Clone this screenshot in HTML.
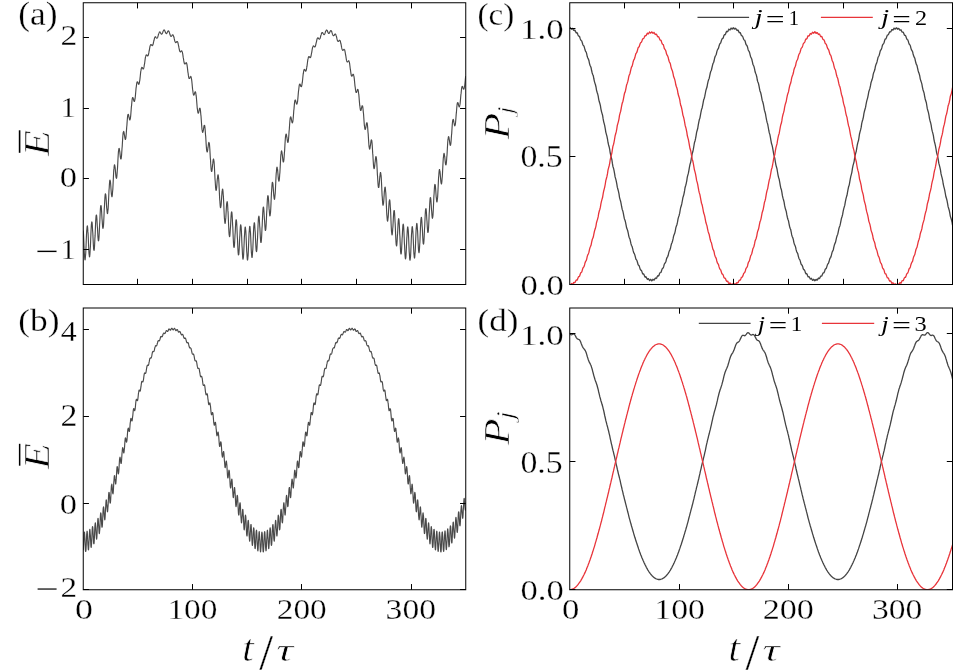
<!DOCTYPE html><html><head><meta charset="utf-8"><style>html,body{margin:0;padding:0;background:#fff;overflow:hidden;}svg{display:block;}text{font-family:"Liberation Serif",serif;fill:#000;font-size:100px;stroke:#fff;stroke-width:0.3px;vector-effect:non-scaling-stroke;}.i{font-style:italic;}.ns{stroke:none;}.th{stroke-width:0.7px;}</style></head><body>
<svg width="953" height="672" viewBox="0 0 953 672">
<rect width="953" height="672" fill="#fff"/>
<clipPath id="ca"><rect x="83.25" y="2.75" width="382.50" height="281.75"/></clipPath>
<clipPath id="cb"><rect x="83.25" y="308.00" width="382.50" height="281.75"/></clipPath>
<clipPath id="cc"><rect x="569.75" y="2.75" width="382.75" height="281.75"/></clipPath>
<clipPath id="cd"><rect x="569.75" y="308.00" width="382.75" height="281.75"/></clipPath>
<g clip-path="url(#ca)" fill="none" stroke-width="1.15" stroke-linejoin="round"><path d="M83.2 230.5L83.4 232.2L83.5 234.1L83.6 236.3L83.7 238.6L83.8 241.1L83.9 243.5L84.0 246.0L84.1 248.5L84.2 250.8L84.3 253.0L84.5 254.9L84.6 256.6L84.7 257.9L84.8 259.0L84.9 259.6L85.0 259.9L85.1 259.8L85.2 259.4L85.3 258.5L85.4 257.3L85.5 255.8L85.7 254.0L85.8 251.9L85.9 249.6L86.0 247.2L86.1 244.7L86.2 242.1L86.3 239.6L86.4 237.1L86.5 234.8L86.6 232.7L86.7 230.8L86.9 229.1L87.0 227.8L87.1 226.8L87.2 226.2L87.3 225.9L87.4 226.0L87.5 226.5L87.6 227.4L87.7 228.6L87.8 230.1L87.9 231.9L88.1 233.9L88.2 236.1L88.3 238.4L88.4 240.8L88.5 243.2L88.6 245.5L88.7 247.8L88.8 249.9L88.9 251.8L89.0 253.4L89.2 254.8L89.3 255.8L89.4 256.5L89.5 256.8L89.6 256.8L89.7 256.3L89.8 255.5L89.9 254.4L90.0 252.9L90.1 251.1L90.2 249.1L90.4 246.8L90.5 244.4L90.6 241.9L90.7 239.3L90.8 236.7L90.9 234.2L91.0 231.8L91.1 229.5L91.2 227.5L91.3 225.7L91.4 224.3L91.6 223.1L91.7 222.4L91.8 221.9L91.9 221.9L92.0 222.2L92.1 222.8L92.2 223.8L92.3 225.1L92.4 226.7L92.5 228.6L92.6 230.6L92.8 232.7L92.9 234.9L93.0 237.2L93.1 239.4L93.2 241.6L93.3 243.6L93.4 245.4L93.5 247.0L93.6 248.4L93.7 249.4L93.9 250.1L94.0 250.4L94.1 250.4L94.2 250.0L94.3 249.2L94.4 248.1L94.5 246.7L94.6 245.0L94.7 243.0L94.8 240.8L94.9 238.4L95.1 235.9L95.2 233.3L95.3 230.8L95.4 228.2L95.5 225.8L95.6 223.5L95.7 221.4L95.8 219.6L95.9 218.0L96.0 216.7L96.1 215.8L96.3 215.2L96.4 215.0L96.5 215.1L96.6 215.6L96.7 216.4L96.8 217.5L96.9 218.9L97.0 220.5L97.1 222.3L97.2 224.2L97.3 226.3L97.5 228.3L97.6 230.4L97.7 232.4L97.8 234.3L97.9 236.1L98.0 237.6L98.1 238.8L98.2 239.8L98.3 240.5L98.4 240.8L98.5 240.8L98.7 240.5L98.8 239.8L98.9 238.7L99.0 237.4L99.1 235.7L99.2 233.8L99.3 231.7L99.4 229.4L99.5 227.0L99.6 224.5L99.8 222.0L99.9 219.5L100.0 217.1L100.1 214.8L100.2 212.7L100.3 210.8L100.4 209.1L100.5 207.8L100.6 206.7L100.7 206.0L100.8 205.6L101.0 205.6L101.1 205.8L101.2 206.4L101.3 207.3L101.4 208.5L101.5 209.8L101.6 211.4L101.7 213.2L101.8 215.0L101.9 216.9L102.0 218.8L102.2 220.6L102.3 222.3L102.4 223.9L102.5 225.3L102.6 226.5L102.7 227.5L102.8 228.1L102.9 228.4L103.0 228.4L103.1 228.1L103.2 227.5L103.4 226.5L103.5 225.3L103.6 223.7L103.7 221.9L103.8 219.9L103.9 217.7L104.0 215.4L104.1 213.0L104.2 210.6L104.3 208.2L104.5 205.9L104.6 203.6L104.7 201.5L104.8 199.6L104.9 197.9L105.0 196.5L105.1 195.4L105.2 194.5L105.3 194.0L105.4 193.8L105.5 193.9L105.7 194.3L105.8 195.0L105.9 195.9L106.0 197.0L106.1 198.4L106.2 199.9L106.3 201.5L106.4 203.1L106.5 204.8L106.6 206.4L106.7 208.0L106.9 209.4L107.0 210.7L107.1 211.8L107.2 212.7L107.3 213.2L107.4 213.6L107.5 213.6L107.6 213.3L107.7 212.7L107.8 211.8L107.9 210.7L108.1 209.2L108.2 207.6L108.3 205.7L108.4 203.7L108.5 201.5L108.6 199.3L108.7 197.0L108.8 194.7L108.9 192.4L109.0 190.3L109.2 188.2L109.3 186.4L109.4 184.7L109.5 183.2L109.6 182.1L109.7 181.1L109.8 180.5L109.9 180.2L110.0 180.1L110.1 180.3L110.2 180.8L110.4 181.5L110.5 182.4L110.6 183.5L110.7 184.7L110.8 186.1L110.9 187.5L111.0 189.0L111.1 190.4L111.2 191.8L111.3 193.0L111.4 194.2L111.6 195.1L111.7 195.9L111.8 196.4L111.9 196.7L112.0 196.7L112.1 196.4L112.2 195.9L112.3 195.1L112.4 194.1L112.5 192.8L112.6 191.3L112.8 189.6L112.9 187.7L113.0 185.7L113.1 183.6L113.2 181.5L113.3 179.3L113.4 177.2L113.5 175.2L113.6 173.2L113.7 171.4L113.8 169.8L114.0 168.4L114.1 167.2L114.2 166.2L114.3 165.5L114.4 165.0L114.5 164.8L114.6 164.9L114.7 165.1L114.8 165.6L114.9 166.3L115.1 167.2L115.2 168.2L115.3 169.3L115.4 170.5L115.5 171.7L115.6 172.9L115.7 174.1L115.8 175.2L115.9 176.1L116.0 177.0L116.1 177.6L116.3 178.1L116.4 178.3L116.5 178.3L116.6 178.1L116.7 177.6L116.8 176.9L116.9 176.0L117.0 174.8L117.1 173.4L117.2 171.9L117.3 170.2L117.5 168.4L117.6 166.5L117.7 164.6L117.8 162.6L117.9 160.6L118.0 158.7L118.1 156.9L118.2 155.2L118.3 153.7L118.4 152.3L118.5 151.1L118.7 150.1L118.8 149.4L118.9 148.8L119.0 148.5L119.1 148.4L119.2 148.5L119.3 148.8L119.4 149.3L119.5 150.0L119.6 150.8L119.8 151.6L119.9 152.6L120.0 153.6L120.1 154.6L120.2 155.5L120.3 156.4L120.4 157.2L120.5 157.9L120.6 158.5L120.7 158.8L120.8 159.0L121.0 159.0L121.1 158.8L121.2 158.4L121.3 157.7L121.4 156.9L121.5 155.9L121.6 154.7L121.7 153.3L121.8 151.8L121.9 150.2L122.0 148.5L122.2 146.8L122.3 145.0L122.4 143.2L122.5 141.5L122.6 139.8L122.7 138.3L122.8 136.8L122.9 135.5L123.0 134.4L123.1 133.4L123.2 132.6L123.4 132.0L123.5 131.6L123.6 131.4L123.7 131.4L123.8 131.6L123.9 131.9L124.0 132.3L124.1 132.9L124.2 133.6L124.3 134.3L124.5 135.1L124.6 135.9L124.7 136.6L124.8 137.3L124.9 138.0L125.0 138.5L125.1 139.0L125.2 139.3L125.3 139.4L125.4 139.4L125.5 139.2L125.7 138.8L125.8 138.2L125.9 137.5L126.0 136.6L126.1 135.5L126.2 134.4L126.3 133.0L126.4 131.6L126.5 130.1L126.6 128.6L126.7 127.0L126.9 125.5L127.0 123.9L127.1 122.4L127.2 121.0L127.3 119.7L127.4 118.5L127.5 117.4L127.6 116.5L127.7 115.7L127.8 115.1L127.9 114.7L128.1 114.4L128.2 114.3L128.3 114.3L128.4 114.5L128.5 114.8L128.6 115.2L128.7 115.6L128.8 116.2L128.9 116.7L129.0 117.3L129.2 117.9L129.3 118.5L129.4 119.0L129.5 119.4L129.6 119.7L129.7 119.9L129.8 120.0L129.9 120.0L130.0 119.8L130.1 119.4L130.2 118.9L130.4 118.3L130.5 117.5L130.6 116.6L130.7 115.6L130.8 114.5L130.9 113.3L131.0 112.0L131.1 110.7L131.2 109.3L131.3 107.9L131.4 106.6L131.6 105.3L131.7 104.0L131.8 102.9L131.9 101.8L132.0 100.8L132.1 99.9L132.2 99.2L132.3 98.6L132.4 98.2L132.5 97.8L132.6 97.6L132.8 97.6L132.9 97.6L133.0 97.8L133.1 98.0L133.2 98.3L133.3 98.7L133.4 99.1L133.5 99.5L133.6 99.9L133.7 100.3L133.8 100.7L134.0 101.0L134.1 101.2L134.2 101.4L134.3 101.4L134.4 101.4L134.5 101.2L134.6 100.9L134.7 100.5L134.8 100.0L134.9 99.3L135.1 98.5L135.2 97.7L135.3 96.7L135.4 95.7L135.5 94.6L135.6 93.5L135.7 92.3L135.8 91.2L135.9 90.0L136.0 88.9L136.1 87.8L136.3 86.8L136.4 85.8L136.5 85.0L136.6 84.2L136.7 83.5L136.8 83.0L136.9 82.5L137.0 82.2L137.1 81.9L137.2 81.8L137.3 81.8L137.5 81.8L137.6 81.9L137.7 82.1L137.8 82.4L137.9 82.6L138.0 82.9L138.1 83.2L138.2 83.5L138.3 83.8L138.4 84.0L138.5 84.1L138.7 84.2L138.8 84.3L138.9 84.2L139.0 84.0L139.1 83.8L139.2 83.4L139.3 83.0L139.4 82.4L139.5 81.8L139.6 81.1L139.8 80.3L139.9 79.5L140.0 78.6L140.1 77.6L140.2 76.7L140.3 75.7L140.4 74.7L140.5 73.8L140.6 72.9L140.7 72.0L140.8 71.2L141.0 70.4L141.1 69.7L141.2 69.1L141.3 68.6L141.4 68.2L141.5 67.9L141.6 67.6L141.7 67.4L141.8 67.4L141.9 67.3L142.0 67.4L142.2 67.5L142.3 67.6L142.4 67.8L142.5 68.0L142.6 68.2L142.7 68.4L142.8 68.6L142.9 68.8L143.0 68.9L143.1 68.9L143.2 68.9L143.4 68.9L143.5 68.7L143.6 68.5L143.7 68.2L143.8 67.9L143.9 67.4L144.0 66.9L144.1 66.4L144.2 65.7L144.3 65.0L144.4 64.3L144.6 63.6L144.7 62.8L144.8 62.0L144.9 61.2L145.0 60.4L145.1 59.6L145.2 58.9L145.3 58.2L145.4 57.6L145.5 57.0L145.7 56.5L145.8 56.1L145.9 55.7L146.0 55.4L146.1 55.1L146.2 55.0L146.3 54.9L146.4 54.8L146.5 54.8L146.6 54.9L146.7 55.0L146.9 55.1L147.0 55.2L147.1 55.4L147.2 55.5L147.3 55.7L147.4 55.8L147.5 55.9L147.6 55.9L147.7 55.9L147.8 55.9L147.9 55.8L148.1 55.6L148.2 55.4L148.3 55.1L148.4 54.8L148.5 54.4L148.6 53.9L148.7 53.4L148.8 52.9L148.9 52.3L149.0 51.7L149.1 51.1L149.3 50.5L149.4 49.8L149.5 49.2L149.6 48.6L149.7 48.0L149.8 47.4L149.9 46.9L150.0 46.4L150.1 46.0L150.2 45.6L150.4 45.3L150.5 45.0L150.6 44.8L150.7 44.7L150.8 44.6L150.9 44.5L151.0 44.5L151.1 44.6L151.2 44.7L151.3 44.8L151.4 44.9L151.6 45.0L151.7 45.1L151.8 45.3L151.9 45.4L152.0 45.5L152.1 45.5L152.2 45.6L152.3 45.6L152.4 45.5L152.5 45.4L152.6 45.3L152.8 45.1L152.9 44.8L153.0 44.6L153.1 44.2L153.2 43.8L153.3 43.4L153.4 43.0L153.5 42.5L153.6 42.0L153.7 41.5L153.8 41.0L154.0 40.5L154.1 40.0L154.2 39.6L154.3 39.1L154.4 38.7L154.5 38.3L154.6 38.0L154.7 37.7L154.8 37.4L154.9 37.2L155.1 37.0L155.2 36.9L155.3 36.9L155.4 36.8L155.5 36.9L155.6 36.9L155.7 37.0L155.8 37.1L155.9 37.3L156.0 37.4L156.1 37.6L156.3 37.7L156.4 37.9L156.5 38.0L156.6 38.1L156.7 38.2L156.8 38.2L156.9 38.2L157.0 38.2L157.1 38.1L157.2 38.0L157.3 37.9L157.5 37.7L157.6 37.5L157.7 37.2L157.8 36.9L157.9 36.6L158.0 36.2L158.1 35.8L158.2 35.5L158.3 35.1L158.4 34.7L158.5 34.3L158.7 33.9L158.8 33.6L158.9 33.2L159.0 32.9L159.1 32.7L159.2 32.4L159.3 32.3L159.4 32.1L159.5 32.0L159.6 32.0L159.8 31.9L159.9 32.0L160.0 32.0L160.1 32.1L160.2 32.3L160.3 32.4L160.4 32.6L160.5 32.8L160.6 33.0L160.7 33.2L160.8 33.4L161.0 33.6L161.1 33.7L161.2 33.9L161.3 34.0L161.4 34.1L161.5 34.2L161.6 34.2L161.7 34.2L161.8 34.1L161.9 34.0L162.0 33.9L162.2 33.7L162.3 33.5L162.4 33.3L162.5 33.0L162.6 32.7L162.7 32.5L162.8 32.2L162.9 31.9L163.0 31.6L163.1 31.3L163.2 31.0L163.4 30.7L163.5 30.5L163.6 30.3L163.7 30.2L163.8 30.0L163.9 30.0L164.0 29.9L164.1 29.9L164.2 30.0L164.3 30.1L164.4 30.2L164.6 30.3L164.7 30.5L164.8 30.8L164.9 31.0L165.0 31.3L165.1 31.5L165.2 31.8L165.3 32.1L165.4 32.3L165.5 32.6L165.7 32.8L165.8 33.0L165.9 33.2L166.0 33.3L166.1 33.5L166.2 33.5L166.3 33.6L166.4 33.6L166.5 33.5L166.6 33.4L166.7 33.3L166.9 33.2L167.0 33.0L167.1 32.8L167.2 32.6L167.3 32.4L167.4 32.2L167.5 31.9L167.6 31.7L167.7 31.5L167.8 31.3L167.9 31.2L168.1 31.0L168.2 31.0L168.3 30.9L168.4 30.9L168.5 30.9L168.6 31.0L168.7 31.1L168.8 31.2L168.9 31.4L169.0 31.6L169.1 31.9L169.3 32.2L169.4 32.5L169.5 32.9L169.6 33.2L169.7 33.6L169.8 33.9L169.9 34.3L170.0 34.6L170.1 34.9L170.2 35.2L170.4 35.5L170.5 35.7L170.6 36.0L170.7 36.1L170.8 36.2L170.9 36.3L171.0 36.4L171.1 36.4L171.2 36.4L171.3 36.3L171.4 36.2L171.6 36.1L171.7 35.9L171.8 35.8L171.9 35.6L172.0 35.5L172.1 35.3L172.2 35.1L172.3 35.0L172.4 34.9L172.5 34.8L172.6 34.8L172.8 34.8L172.9 34.8L173.0 34.9L173.1 35.0L173.2 35.2L173.3 35.4L173.4 35.6L173.5 36.0L173.6 36.3L173.7 36.7L173.8 37.1L174.0 37.5L174.1 38.0L174.2 38.4L174.3 38.9L174.4 39.3L174.5 39.8L174.6 40.2L174.7 40.6L174.8 41.0L174.9 41.3L175.1 41.7L175.2 41.9L175.3 42.1L175.4 42.3L175.5 42.4L175.6 42.5L175.7 42.6L175.8 42.6L175.9 42.5L176.0 42.5L176.1 42.4L176.3 42.3L176.4 42.1L176.5 42.0L176.6 41.9L176.7 41.7L176.8 41.6L176.9 41.5L177.0 41.5L177.1 41.5L177.2 41.5L177.3 41.6L177.5 41.7L177.6 41.9L177.7 42.1L177.8 42.4L177.9 42.7L178.0 43.1L178.1 43.5L178.2 44.0L178.3 44.5L178.4 45.0L178.5 45.6L178.7 46.2L178.8 46.8L178.9 47.4L179.0 47.9L179.1 48.5L179.2 49.0L179.3 49.5L179.4 50.0L179.5 50.4L179.6 50.8L179.7 51.1L179.9 51.4L180.0 51.6L180.1 51.7L180.2 51.8L180.3 51.9L180.4 51.9L180.5 51.8L180.6 51.8L180.7 51.7L180.8 51.5L181.0 51.4L181.1 51.3L181.2 51.1L181.3 51.0L181.4 50.9L181.5 50.9L181.6 50.8L181.7 50.9L181.8 51.0L181.9 51.1L182.0 51.3L182.2 51.6L182.3 51.9L182.4 52.3L182.5 52.8L182.6 53.3L182.7 53.9L182.8 54.5L182.9 55.2L183.0 55.9L183.1 56.6L183.2 57.4L183.4 58.1L183.5 58.8L183.6 59.5L183.7 60.2L183.8 60.9L183.9 61.4L184.0 62.0L184.1 62.5L184.2 62.9L184.3 63.3L184.4 63.5L184.6 63.7L184.7 63.9L184.8 64.0L184.9 64.0L185.0 63.9L185.1 63.9L185.2 63.7L185.3 63.6L185.4 63.4L185.5 63.2L185.7 63.1L185.8 62.9L185.9 62.8L186.0 62.7L186.1 62.6L186.2 62.6L186.3 62.7L186.4 62.8L186.5 63.1L186.6 63.4L186.7 63.8L186.9 64.2L187.0 64.8L187.1 65.4L187.2 66.1L187.3 66.8L187.4 67.6L187.5 68.5L187.6 69.4L187.7 70.3L187.8 71.2L187.9 72.1L188.1 73.0L188.2 73.8L188.3 74.6L188.4 75.4L188.5 76.0L188.6 76.6L188.7 77.2L188.8 77.6L188.9 78.0L189.0 78.2L189.1 78.4L189.3 78.5L189.4 78.5L189.5 78.5L189.6 78.3L189.7 78.2L189.8 78.0L189.9 77.7L190.0 77.4L190.1 77.2L190.2 76.9L190.4 76.7L190.5 76.6L190.6 76.4L190.7 76.4L190.8 76.4L190.9 76.6L191.0 76.8L191.1 77.1L191.2 77.5L191.3 78.0L191.4 78.6L191.6 79.3L191.7 80.2L191.8 81.0L191.9 82.0L192.0 83.0L192.1 84.0L192.2 85.1L192.3 86.2L192.4 87.3L192.5 88.4L192.6 89.4L192.8 90.4L192.9 91.3L193.0 92.1L193.1 92.9L193.2 93.5L193.3 94.0L193.4 94.5L193.5 94.8L193.6 95.0L193.7 95.1L193.8 95.1L194.0 95.0L194.1 94.8L194.2 94.5L194.3 94.2L194.4 93.9L194.5 93.5L194.6 93.1L194.7 92.8L194.8 92.4L194.9 92.2L195.0 91.9L195.2 91.8L195.3 91.8L195.4 91.8L195.5 92.0L195.6 92.3L195.7 92.7L195.8 93.3L195.9 94.0L196.0 94.7L196.1 95.7L196.3 96.7L196.4 97.8L196.5 98.9L196.6 100.2L196.7 101.4L196.8 102.7L196.9 104.0L197.0 105.3L197.1 106.5L197.2 107.7L197.3 108.7L197.5 109.7L197.6 110.6L197.7 111.4L197.8 112.0L197.9 112.5L198.0 112.9L198.1 113.1L198.2 113.2L198.3 113.2L198.4 113.0L198.5 112.8L198.7 112.4L198.8 112.0L198.9 111.5L199.0 111.0L199.1 110.5L199.2 110.0L199.3 109.5L199.4 109.0L199.5 108.7L199.6 108.4L199.7 108.3L199.9 108.2L200.0 108.3L200.1 108.6L200.2 109.0L200.3 109.6L200.4 110.3L200.5 111.1L200.6 112.1L200.7 113.2L200.8 114.5L201.0 115.8L201.1 117.2L201.2 118.7L201.3 120.2L201.4 121.7L201.5 123.1L201.6 124.6L201.7 125.9L201.8 127.2L201.9 128.4L202.0 129.4L202.2 130.3L202.3 131.1L202.4 131.6L202.5 132.1L202.6 132.3L202.7 132.4L202.8 132.3L202.9 132.1L203.0 131.7L203.1 131.3L203.2 130.7L203.4 130.1L203.5 129.4L203.6 128.7L203.7 128.0L203.8 127.3L203.9 126.7L204.0 126.2L204.1 125.7L204.2 125.4L204.3 125.3L204.4 125.3L204.6 125.5L204.7 125.8L204.8 126.4L204.9 127.1L205.0 128.0L205.1 129.1L205.2 130.3L205.3 131.6L205.4 133.1L205.5 134.7L205.7 136.4L205.8 138.0L205.9 139.7L206.0 141.4L206.1 143.1L206.2 144.6L206.3 146.1L206.4 147.4L206.5 148.6L206.6 149.7L206.7 150.5L206.9 151.2L207.0 151.7L207.1 151.9L207.2 152.0L207.3 151.9L207.4 151.6L207.5 151.1L207.6 150.6L207.7 149.8L207.8 149.0L207.9 148.2L208.1 147.2L208.2 146.3L208.3 145.5L208.4 144.6L208.5 143.9L208.6 143.3L208.7 142.8L208.8 142.5L208.9 142.4L209.0 142.4L209.1 142.7L209.3 143.2L209.4 143.9L209.5 144.8L209.6 146.0L209.7 147.3L209.8 148.7L209.9 150.3L210.0 152.1L210.1 153.9L210.2 155.8L210.3 157.7L210.5 159.6L210.6 161.4L210.7 163.2L210.8 164.8L210.9 166.4L211.0 167.7L211.1 168.9L211.2 169.9L211.3 170.6L211.4 171.1L211.6 171.4L211.7 171.5L211.8 171.3L211.9 171.0L212.0 170.4L212.1 169.7L212.2 168.8L212.3 167.8L212.4 166.8L212.5 165.6L212.6 164.5L212.8 163.4L212.9 162.3L213.0 161.4L213.1 160.6L213.2 159.9L213.3 159.4L213.4 159.1L213.5 159.0L213.6 159.2L213.7 159.6L213.8 160.3L214.0 161.2L214.1 162.3L214.2 163.7L214.3 165.2L214.4 166.9L214.5 168.8L214.6 170.8L214.7 172.8L214.8 174.9L214.9 177.0L215.0 179.0L215.2 181.0L215.3 182.8L215.4 184.5L215.5 186.0L215.6 187.4L215.7 188.5L215.8 189.3L215.9 189.9L216.0 190.2L216.1 190.3L216.3 190.1L216.4 189.6L216.5 189.0L216.6 188.1L216.7 187.1L216.8 185.9L216.9 184.7L217.0 183.3L217.1 182.0L217.2 180.6L217.3 179.3L217.5 178.1L217.6 177.1L217.7 176.2L217.8 175.5L217.9 175.0L218.0 174.8L218.1 174.8L218.2 175.1L218.3 175.7L218.4 176.6L218.5 177.7L218.7 179.1L218.8 180.6L218.9 182.4L219.0 184.4L219.1 186.5L219.2 188.7L219.3 190.9L219.4 193.2L219.5 195.4L219.6 197.5L219.7 199.5L219.9 201.4L220.0 203.1L220.1 204.5L220.2 205.7L220.3 206.7L220.4 207.3L220.5 207.7L220.6 207.7L220.7 207.5L220.8 207.0L220.9 206.3L221.1 205.3L221.2 204.1L221.3 202.8L221.4 201.3L221.5 199.8L221.6 198.2L221.7 196.6L221.8 195.1L221.9 193.6L222.0 192.3L222.2 191.2L222.3 190.3L222.4 189.6L222.5 189.2L222.6 189.1L222.7 189.3L222.8 189.7L222.9 190.5L223.0 191.6L223.1 192.9L223.2 194.5L223.4 196.4L223.5 198.4L223.6 200.6L223.7 202.9L223.8 205.2L223.9 207.6L224.0 210.0L224.1 212.3L224.2 214.5L224.3 216.5L224.4 218.3L224.6 219.9L224.7 221.2L224.8 222.2L224.9 222.9L225.0 223.3L225.1 223.4L225.2 223.2L225.3 222.6L225.4 221.8L225.5 220.7L225.6 219.4L225.8 217.9L225.9 216.3L226.0 214.5L226.1 212.7L226.2 210.9L226.3 209.2L226.4 207.5L226.5 205.9L226.6 204.6L226.7 203.4L226.9 202.5L227.0 201.9L227.1 201.6L227.2 201.6L227.3 202.0L227.4 202.6L227.5 203.6L227.6 204.9L227.7 206.5L227.8 208.3L227.9 210.4L228.1 212.6L228.2 215.0L228.3 217.4L228.4 219.9L228.5 222.4L228.6 224.8L228.7 227.1L228.8 229.3L228.9 231.2L229.0 232.9L229.1 234.3L229.3 235.4L229.4 236.2L229.5 236.6L229.6 236.7L229.7 236.5L229.8 235.9L229.9 235.1L230.0 233.9L230.1 232.5L230.2 230.9L230.3 229.1L230.5 227.1L230.6 225.1L230.7 223.1L230.8 221.1L230.9 219.2L231.0 217.4L231.1 215.8L231.2 214.5L231.3 213.4L231.4 212.5L231.6 212.0L231.7 211.9L231.8 212.1L231.9 212.6L232.0 213.5L232.1 214.7L232.2 216.2L232.3 218.0L232.4 220.0L232.5 222.3L232.6 224.7L232.8 227.2L232.9 229.7L233.0 232.3L233.1 234.8L233.2 237.2L233.3 239.4L233.4 241.4L233.5 243.2L233.6 244.7L233.7 245.9L233.8 246.7L234.0 247.2L234.1 247.4L234.2 247.1L234.3 246.5L234.4 245.6L234.5 244.4L234.6 242.9L234.7 241.2L234.8 239.3L234.9 237.2L235.0 235.0L235.2 232.8L235.3 230.6L235.4 228.5L235.5 226.5L235.6 224.7L235.7 223.1L235.8 221.8L235.9 220.8L236.0 220.1L236.1 219.7L236.2 219.7L236.4 220.1L236.5 220.9L236.6 221.9L236.7 223.4L236.8 225.1L236.9 227.0L237.0 229.2L237.1 231.6L237.2 234.1L237.3 236.7L237.5 239.3L237.6 241.8L237.7 244.3L237.8 246.6L237.9 248.7L238.0 250.5L238.1 252.1L238.2 253.3L238.3 254.2L238.4 254.8L238.5 254.9L238.7 254.7L238.8 254.1L238.9 253.2L239.0 252.0L239.1 250.4L239.2 248.6L239.3 246.6L239.4 244.4L239.5 242.1L239.6 239.7L239.7 237.4L239.9 235.1L240.0 232.9L240.1 230.9L240.2 229.2L240.3 227.6L240.4 226.4L240.5 225.5L240.6 225.0L240.7 224.8L240.8 225.0L240.9 225.6L241.1 226.5L241.2 227.8L241.3 229.4L241.4 231.3L241.5 233.4L241.6 235.7L241.7 238.1L241.8 240.7L241.9 243.3L242.0 245.8L242.2 248.3L242.3 250.6L242.4 252.7L242.5 254.6L242.6 256.2L242.7 257.5L242.8 258.4L242.9 259.0L243.0 259.2L243.1 259.0L243.2 258.5L243.4 257.5L243.5 256.3L243.6 254.7L243.7 252.9L243.8 250.8L243.9 248.5L244.0 246.1L244.1 243.7L244.2 241.2L244.3 238.8L244.4 236.5L244.6 234.3L244.7 232.3L244.8 230.6L244.9 229.2L245.0 228.1L245.1 227.4L245.2 227.0L245.3 227.1L245.4 227.5L245.5 228.2L245.6 229.3L245.8 230.8L245.9 232.5L246.0 234.5L246.1 236.7L246.2 239.1L246.3 241.6L246.4 244.1L246.5 246.6L246.6 249.0L246.7 251.3L246.9 253.5L247.0 255.3L247.1 257.0L247.2 258.3L247.3 259.3L247.4 259.9L247.5 260.1L247.6 259.9L247.7 259.4L247.8 258.5L247.9 257.2L248.1 255.7L248.2 253.8L248.3 251.7L248.4 249.4L248.5 247.0L248.6 244.5L248.7 241.9L248.8 239.4L248.9 237.0L249.0 234.7L249.1 232.6L249.3 230.7L249.4 229.1L249.5 227.9L249.6 227.0L249.7 226.4L249.8 226.3L249.9 226.5L250.0 227.1L250.1 228.0L250.2 229.3L250.3 230.9L250.5 232.7L250.6 234.8L250.7 237.0L250.8 239.3L250.9 241.8L251.0 244.2L251.1 246.5L251.2 248.8L251.3 250.9L251.4 252.7L251.6 254.3L251.7 255.7L251.8 256.6L251.9 257.3L252.0 257.5L252.1 257.4L252.2 256.9L252.3 256.0L252.4 254.8L252.5 253.3L252.6 251.4L252.8 249.4L252.9 247.1L253.0 244.6L253.1 242.1L253.2 239.5L253.3 236.9L253.4 234.4L253.5 232.1L253.6 229.9L253.7 227.9L253.8 226.2L254.0 224.8L254.1 223.7L254.2 223.0L254.3 222.7L254.4 222.7L254.5 223.1L254.6 223.8L254.7 224.9L254.8 226.3L254.9 228.0L255.0 229.8L255.2 231.9L255.3 234.1L255.4 236.4L255.5 238.6L255.6 240.9L255.7 243.0L255.8 245.0L255.9 246.9L256.0 248.4L256.1 249.7L256.2 250.7L256.4 251.3L256.5 251.6L256.6 251.5L256.7 251.0L256.8 250.2L256.9 249.1L257.0 247.6L257.1 245.8L257.2 243.8L257.3 241.5L257.5 239.1L257.6 236.6L257.7 234.0L257.8 231.4L257.9 228.9L258.0 226.5L258.1 224.3L258.2 222.2L258.3 220.4L258.4 218.9L258.5 217.7L258.7 216.8L258.8 216.3L258.9 216.2L259.0 216.4L259.1 216.9L259.2 217.8L259.3 219.0L259.4 220.4L259.5 222.1L259.6 224.0L259.7 226.0L259.9 228.1L260.0 230.2L260.1 232.3L260.2 234.3L260.3 236.2L260.4 237.9L260.5 239.4L260.6 240.6L260.7 241.6L260.8 242.2L260.9 242.5L261.1 242.4L261.2 242.0L261.3 241.2L261.4 240.1L261.5 238.7L261.6 237.0L261.7 235.1L261.8 232.9L261.9 230.6L262.0 228.1L262.2 225.6L262.3 223.1L262.4 220.6L262.5 218.2L262.6 215.9L262.7 213.9L262.8 212.0L262.9 210.4L263.0 209.1L263.1 208.1L263.2 207.5L263.4 207.1L263.5 207.2L263.6 207.5L263.7 208.2L263.8 209.2L263.9 210.4L264.0 211.8L264.1 213.5L264.2 215.2L264.3 217.1L264.4 219.0L264.6 221.0L264.7 222.8L264.8 224.6L264.9 226.1L265.0 227.5L265.1 228.7L265.2 229.6L265.3 230.2L265.4 230.5L265.5 230.4L265.6 230.1L265.8 229.4L265.9 228.3L266.0 227.0L266.1 225.4L266.2 223.6L266.3 221.5L266.4 219.3L266.5 217.0L266.6 214.5L266.7 212.1L266.9 209.7L267.0 207.3L267.1 205.1L267.2 203.0L267.3 201.1L267.4 199.5L267.5 198.1L267.6 197.1L267.7 196.3L267.8 195.8L267.9 195.7L268.1 195.9L268.2 196.3L268.3 197.1L268.4 198.1L268.5 199.3L268.6 200.7L268.7 202.2L268.8 203.9L268.9 205.6L269.0 207.3L269.1 208.9L269.3 210.5L269.4 212.0L269.5 213.2L269.6 214.3L269.7 215.1L269.8 215.7L269.9 215.9L270.0 215.9L270.1 215.6L270.2 214.9L270.3 214.0L270.5 212.8L270.6 211.3L270.7 209.6L270.8 207.7L270.9 205.6L271.0 203.4L271.1 201.1L271.2 198.8L271.3 196.5L271.4 194.2L271.5 192.1L271.7 190.0L271.8 188.2L271.9 186.6L272.0 185.2L272.1 184.0L272.2 183.1L272.3 182.6L272.4 182.3L272.5 182.3L272.6 182.6L272.8 183.1L272.9 183.9L273.0 184.8L273.1 186.0L273.2 187.3L273.3 188.7L273.4 190.2L273.5 191.7L273.6 193.1L273.7 194.5L273.8 195.8L274.0 196.9L274.1 197.9L274.2 198.6L274.3 199.1L274.4 199.3L274.5 199.3L274.6 199.0L274.7 198.4L274.8 197.6L274.9 196.5L275.0 195.1L275.2 193.6L275.3 191.8L275.4 189.9L275.5 187.8L275.6 185.7L275.7 183.6L275.8 181.4L275.9 179.3L276.0 177.2L276.1 175.3L276.2 173.5L276.4 171.9L276.5 170.5L276.6 169.3L276.7 168.4L276.8 167.7L276.9 167.3L277.0 167.2L277.1 167.3L277.2 167.6L277.3 168.2L277.5 168.9L277.6 169.9L277.7 170.9L277.8 172.1L277.9 173.3L278.0 174.6L278.1 175.8L278.2 177.0L278.3 178.1L278.4 179.1L278.5 179.9L278.7 180.5L278.8 181.0L278.9 181.2L279.0 181.1L279.1 180.9L279.2 180.3L279.3 179.6L279.4 178.6L279.5 177.4L279.6 176.0L279.7 174.4L279.9 172.6L280.0 170.8L280.1 168.8L280.2 166.9L280.3 164.9L280.4 162.9L280.5 161.0L280.6 159.2L280.7 157.5L280.8 155.9L280.9 154.6L281.1 153.4L281.2 152.5L281.3 151.7L281.4 151.2L281.5 151.0L281.6 150.9L281.7 151.1L281.8 151.5L281.9 152.0L282.0 152.7L282.1 153.6L282.3 154.5L282.4 155.5L282.5 156.5L282.6 157.5L282.7 158.5L282.8 159.4L282.9 160.2L283.0 160.9L283.1 161.4L283.2 161.8L283.4 162.0L283.5 161.9L283.6 161.7L283.7 161.2L283.8 160.5L283.9 159.7L284.0 158.6L284.1 157.3L284.2 155.9L284.3 154.4L284.4 152.7L284.6 151.0L284.7 149.2L284.8 147.4L284.9 145.6L285.0 143.8L285.1 142.2L285.2 140.6L285.3 139.2L285.4 137.9L285.5 136.7L285.6 135.8L285.8 135.1L285.9 134.5L286.0 134.2L286.1 134.0L286.2 134.0L286.3 134.2L286.4 134.6L286.5 135.1L286.6 135.7L286.7 136.4L286.8 137.2L287.0 138.0L287.1 138.8L287.2 139.6L287.3 140.3L287.4 141.0L287.5 141.5L287.6 141.9L287.7 142.2L287.8 142.3L287.9 142.3L288.1 142.1L288.2 141.6L288.3 141.1L288.4 140.3L288.5 139.3L288.6 138.2L288.7 137.0L288.8 135.6L288.9 134.2L289.0 132.7L289.1 131.1L289.3 129.5L289.4 127.9L289.5 126.3L289.6 124.8L289.7 123.4L289.8 122.1L289.9 120.9L290.0 119.8L290.1 118.9L290.2 118.2L290.3 117.6L290.5 117.2L290.6 116.9L290.7 116.8L290.8 116.9L290.9 117.1L291.0 117.4L291.1 117.9L291.2 118.4L291.3 118.9L291.4 119.6L291.5 120.2L291.7 120.8L291.8 121.3L291.9 121.8L292.0 122.3L292.1 122.6L292.2 122.8L292.3 122.9L292.4 122.8L292.5 122.6L292.6 122.2L292.8 121.7L292.9 121.0L293.0 120.2L293.1 119.3L293.2 118.2L293.3 117.1L293.4 115.8L293.5 114.5L293.6 113.1L293.7 111.7L293.8 110.3L294.0 109.0L294.1 107.6L294.2 106.4L294.3 105.2L294.4 104.1L294.5 103.1L294.6 102.3L294.7 101.6L294.8 101.0L294.9 100.5L295.0 100.2L295.2 100.1L295.3 100.0L295.4 100.1L295.5 100.3L295.6 100.6L295.7 100.9L295.8 101.3L295.9 101.7L296.0 102.2L296.1 102.6L296.2 103.1L296.4 103.4L296.5 103.7L296.6 104.0L296.7 104.1L296.8 104.2L296.9 104.1L297.0 103.9L297.1 103.6L297.2 103.1L297.3 102.5L297.5 101.8L297.6 101.1L297.7 100.2L297.8 99.2L297.9 98.1L298.0 97.0L298.1 95.8L298.2 94.6L298.3 93.4L298.4 92.3L298.5 91.1L298.7 90.0L298.8 89.0L298.9 88.0L299.0 87.2L299.1 86.4L299.2 85.7L299.3 85.2L299.4 84.7L299.5 84.4L299.6 84.2L299.7 84.1L299.9 84.1L300.0 84.1L300.1 84.3L300.2 84.5L300.3 84.8L300.4 85.1L300.5 85.4L300.6 85.7L300.7 86.0L300.8 86.2L300.9 86.5L301.1 86.6L301.2 86.7L301.3 86.7L301.4 86.6L301.5 86.5L301.6 86.2L301.7 85.8L301.8 85.3L301.9 84.8L302.0 84.1L302.1 83.3L302.3 82.5L302.4 81.6L302.5 80.7L302.6 79.7L302.7 78.8L302.8 77.8L302.9 76.8L303.0 75.8L303.1 74.9L303.2 74.0L303.4 73.2L303.5 72.4L303.6 71.7L303.7 71.1L303.8 70.6L303.9 70.2L304.0 69.9L304.1 69.6L304.2 69.5L304.3 69.4L304.4 69.4L304.6 69.5L304.7 69.6L304.8 69.8L304.9 70.0L305.0 70.2L305.1 70.4L305.2 70.6L305.3 70.8L305.4 70.9L305.5 71.0L305.6 71.1L305.8 71.1L305.9 71.0L306.0 70.9L306.1 70.6L306.2 70.3L306.3 69.9L306.4 69.5L306.5 68.9L306.6 68.3L306.7 67.7L306.8 67.0L307.0 66.2L307.1 65.4L307.2 64.6L307.3 63.8L307.4 63.0L307.5 62.2L307.6 61.4L307.7 60.6L307.8 59.9L307.9 59.3L308.1 58.7L308.2 58.2L308.3 57.7L308.4 57.4L308.5 57.1L308.6 56.8L308.7 56.7L308.8 56.6L308.9 56.6L309.0 56.6L309.1 56.6L309.3 56.7L309.4 56.9L309.5 57.0L309.6 57.2L309.7 57.3L309.8 57.5L309.9 57.6L310.0 57.7L310.1 57.7L310.2 57.7L310.3 57.6L310.5 57.5L310.6 57.4L310.7 57.1L310.8 56.8L310.9 56.5L311.0 56.0L311.1 55.6L311.2 55.0L311.3 54.5L311.4 53.9L311.5 53.2L311.7 52.6L311.8 51.9L311.9 51.3L312.0 50.6L312.1 50.0L312.2 49.4L312.3 48.8L312.4 48.3L312.5 47.8L312.6 47.4L312.8 47.0L312.9 46.7L313.0 46.4L313.1 46.2L313.2 46.1L313.3 46.0L313.4 45.9L313.5 45.9L313.6 46.0L313.7 46.1L313.8 46.2L314.0 46.3L314.1 46.4L314.2 46.5L314.3 46.7L314.4 46.8L314.5 46.9L314.6 46.9L314.7 46.9L314.8 46.9L314.9 46.9L315.0 46.7L315.2 46.6L315.3 46.4L315.4 46.1L315.5 45.8L315.6 45.4L315.7 45.0L315.8 44.6L315.9 44.1L316.0 43.6L316.1 43.1L316.2 42.6L316.4 42.1L316.5 41.6L316.6 41.1L316.7 40.6L316.8 40.1L316.9 39.7L317.0 39.3L317.1 38.9L317.2 38.6L317.3 38.4L317.4 38.2L317.6 38.0L317.7 37.9L317.8 37.8L317.9 37.8L318.0 37.9L318.1 37.9L318.2 38.0L318.3 38.1L318.4 38.2L318.5 38.4L318.7 38.5L318.8 38.7L318.9 38.8L319.0 38.9L319.1 39.0L319.2 39.1L319.3 39.1L319.4 39.1L319.5 39.1L319.6 39.0L319.7 38.9L319.9 38.7L320.0 38.5L320.1 38.2L320.2 38.0L320.3 37.6L320.4 37.3L320.5 36.9L320.6 36.5L320.7 36.1L320.8 35.7L320.9 35.3L321.1 34.9L321.2 34.5L321.3 34.2L321.4 33.8L321.5 33.5L321.6 33.2L321.7 33.0L321.8 32.8L321.9 32.7L322.0 32.6L322.1 32.5L322.3 32.5L322.4 32.5L322.5 32.6L322.6 32.7L322.7 32.8L322.8 33.0L322.9 33.1L323.0 33.3L323.1 33.5L323.2 33.7L323.4 33.9L323.5 34.1L323.6 34.2L323.7 34.3L323.8 34.5L323.9 34.5L324.0 34.6L324.1 34.6L324.2 34.5L324.3 34.5L324.4 34.3L324.6 34.2L324.7 34.0L324.8 33.8L324.9 33.5L325.0 33.3L325.1 33.0L325.2 32.7L325.3 32.3L325.4 32.0L325.5 31.7L325.6 31.4L325.8 31.1L325.9 30.9L326.0 30.7L326.1 30.5L326.2 30.3L326.3 30.2L326.4 30.1L326.5 30.0L326.6 30.0L326.7 30.1L326.8 30.2L327.0 30.3L327.1 30.4L327.2 30.6L327.3 30.8L327.4 31.1L327.5 31.3L327.6 31.6L327.7 31.8L327.8 32.1L327.9 32.4L328.1 32.6L328.2 32.8L328.3 33.0L328.4 33.2L328.5 33.3L328.6 33.4L328.7 33.4L328.8 33.4L328.9 33.4L329.0 33.4L329.1 33.3L329.3 33.1L329.4 33.0L329.5 32.8L329.6 32.6L329.7 32.4L329.8 32.1L329.9 31.9L330.0 31.6L330.1 31.4L330.2 31.2L330.3 31.0L330.5 30.9L330.6 30.7L330.7 30.6L330.8 30.6L330.9 30.5L331.0 30.6L331.1 30.6L331.2 30.7L331.3 30.9L331.4 31.1L331.5 31.3L331.7 31.5L331.8 31.8L331.9 32.1L332.0 32.5L332.1 32.8L332.2 33.1L332.3 33.5L332.4 33.8L332.5 34.2L332.6 34.5L332.7 34.7L332.9 35.0L333.0 35.2L333.1 35.4L333.2 35.5L333.3 35.7L333.4 35.7L333.5 35.7L333.6 35.7L333.7 35.7L333.8 35.6L334.0 35.5L334.1 35.4L334.2 35.2L334.3 35.0L334.4 34.9L334.5 34.7L334.6 34.5L334.7 34.4L334.8 34.2L334.9 34.1L335.0 34.1L335.2 34.0L335.3 34.0L335.4 34.0L335.5 34.1L335.6 34.2L335.7 34.4L335.8 34.6L335.9 34.9L336.0 35.2L336.1 35.5L336.2 35.9L336.4 36.3L336.5 36.7L336.6 37.1L336.7 37.6L336.8 38.0L336.9 38.4L337.0 38.9L337.1 39.3L337.2 39.7L337.3 40.0L337.4 40.4L337.6 40.6L337.7 40.9L337.8 41.1L337.9 41.2L338.0 41.4L338.1 41.4L338.2 41.4L338.3 41.4L338.4 41.4L338.5 41.3L338.7 41.2L338.8 41.1L338.9 40.9L339.0 40.8L339.1 40.7L339.2 40.5L339.3 40.4L339.4 40.4L339.5 40.3L339.6 40.3L339.7 40.3L339.9 40.4L340.0 40.5L340.1 40.7L340.2 40.9L340.3 41.2L340.4 41.5L340.5 41.9L340.6 42.3L340.7 42.8L340.8 43.3L340.9 43.8L341.1 44.4L341.2 44.9L341.3 45.5L341.4 46.1L341.5 46.6L341.6 47.2L341.7 47.7L341.8 48.1L341.9 48.6L342.0 49.0L342.1 49.3L342.3 49.6L342.4 49.9L342.5 50.1L342.6 50.2L342.7 50.3L342.8 50.3L342.9 50.3L343.0 50.2L343.1 50.2L343.2 50.0L343.4 49.9L343.5 49.8L343.6 49.7L343.7 49.5L343.8 49.4L343.9 49.3L344.0 49.3L344.1 49.3L344.2 49.3L344.3 49.4L344.4 49.6L344.6 49.8L344.7 50.1L344.8 50.4L344.9 50.8L345.0 51.3L345.1 51.8L345.2 52.4L345.3 53.0L345.4 53.6L345.5 54.3L345.6 55.0L345.8 55.7L345.9 56.4L346.0 57.1L346.1 57.8L346.2 58.5L346.3 59.1L346.4 59.6L346.5 60.2L346.6 60.6L346.7 61.0L346.8 61.3L347.0 61.6L347.1 61.8L347.2 61.9L347.3 62.0L347.4 62.0L347.5 62.0L347.6 61.9L347.7 61.7L347.8 61.6L347.9 61.4L348.0 61.3L348.2 61.1L348.3 60.9L348.4 60.8L348.5 60.7L348.6 60.7L348.7 60.7L348.8 60.8L348.9 61.0L349.0 61.2L349.1 61.5L349.3 61.9L349.4 62.4L349.5 62.9L349.6 63.6L349.7 64.2L349.8 65.0L349.9 65.8L350.0 66.6L350.1 67.5L350.2 68.3L350.3 69.2L350.5 70.1L350.6 70.9L350.7 71.7L350.8 72.5L350.9 73.2L351.0 73.9L351.1 74.5L351.2 75.0L351.3 75.4L351.4 75.7L351.5 76.0L351.7 76.1L351.8 76.2L351.9 76.2L352.0 76.1L352.1 76.0L352.2 75.8L352.3 75.6L352.4 75.4L352.5 75.1L352.6 74.9L352.7 74.7L352.9 74.5L353.0 74.3L353.1 74.2L353.2 74.2L353.3 74.3L353.4 74.4L353.5 74.6L353.6 75.0L353.7 75.4L353.8 75.9L354.0 76.6L354.1 77.3L354.2 78.1L354.3 78.9L354.4 79.9L354.5 80.9L354.6 81.9L354.7 83.0L354.8 84.0L354.9 85.1L355.0 86.1L355.2 87.1L355.3 88.0L355.4 88.9L355.5 89.7L355.6 90.4L355.7 91.0L355.8 91.5L355.9 91.9L356.0 92.2L356.1 92.4L356.2 92.5L356.4 92.5L356.5 92.4L356.6 92.2L356.7 91.9L356.8 91.6L356.9 91.3L357.0 91.0L357.1 90.6L357.2 90.3L357.3 90.0L357.4 89.7L357.6 89.5L357.7 89.4L357.8 89.4L357.9 89.5L358.0 89.7L358.1 90.0L358.2 90.4L358.3 91.0L358.4 91.7L358.5 92.5L358.6 93.4L358.8 94.4L358.9 95.5L359.0 96.6L359.1 97.9L359.2 99.1L359.3 100.4L359.4 101.6L359.5 102.8L359.6 104.0L359.7 105.2L359.9 106.2L360.0 107.2L360.1 108.0L360.2 108.7L360.3 109.3L360.4 109.8L360.5 110.2L360.6 110.4L360.7 110.4L360.8 110.4L360.9 110.2L361.1 110.0L361.2 109.6L361.3 109.2L361.4 108.7L361.5 108.2L361.6 107.7L361.7 107.2L361.8 106.8L361.9 106.4L362.0 106.1L362.1 105.8L362.3 105.7L362.4 105.7L362.5 105.9L362.6 106.1L362.7 106.6L362.8 107.2L362.9 107.9L363.0 108.8L363.1 109.8L363.2 110.9L363.3 112.1L363.5 113.5L363.6 114.8L363.7 116.3L363.8 117.7L363.9 119.2L364.0 120.6L364.1 122.0L364.2 123.4L364.3 124.6L364.4 125.7L364.6 126.7L364.7 127.6L364.8 128.3L364.9 128.8L365.0 129.2L365.1 129.4L365.2 129.5L365.3 129.4L365.4 129.1L365.5 128.8L365.6 128.3L365.8 127.8L365.9 127.1L366.0 126.5L366.1 125.8L366.2 125.1L366.3 124.5L366.4 123.9L366.5 123.4L366.6 123.1L366.7 122.8L366.8 122.7L367.0 122.7L367.1 123.0L367.2 123.4L367.3 123.9L367.4 124.7L367.5 125.6L367.6 126.7L367.7 127.9L367.8 129.3L367.9 130.8L368.0 132.3L368.2 133.9L368.3 135.6L368.4 137.3L368.5 138.9L368.6 140.5L368.7 142.1L368.8 143.5L368.9 144.8L369.0 145.9L369.1 146.9L369.3 147.7L369.4 148.3L369.5 148.8L369.6 149.0L369.7 149.1L369.8 148.9L369.9 148.6L370.0 148.1L370.1 147.6L370.2 146.8L370.3 146.0L370.5 145.2L370.6 144.3L370.7 143.4L370.8 142.6L370.9 141.8L371.0 141.1L371.1 140.6L371.2 140.1L371.3 139.9L371.4 139.8L371.5 139.9L371.7 140.3L371.8 140.8L371.9 141.5L372.0 142.5L372.1 143.6L372.2 145.0L372.3 146.4L372.4 148.0L372.5 149.8L372.6 151.6L372.7 153.4L372.9 155.3L373.0 157.2L373.1 159.0L373.2 160.7L373.3 162.3L373.4 163.8L373.5 165.1L373.6 166.2L373.7 167.1L373.8 167.8L373.9 168.3L374.1 168.6L374.2 168.6L374.3 168.4L374.4 168.0L374.5 167.5L374.6 166.7L374.7 165.9L374.8 164.9L374.9 163.8L375.0 162.7L375.2 161.6L375.3 160.6L375.4 159.6L375.5 158.7L375.6 157.9L375.7 157.3L375.8 156.8L375.9 156.6L376.0 156.6L376.1 156.8L376.2 157.3L376.4 158.0L376.5 159.0L376.6 160.1L376.7 161.5L376.8 163.1L376.9 164.8L377.0 166.7L377.1 168.6L377.2 170.6L377.3 172.7L377.4 174.7L377.6 176.7L377.7 178.7L377.8 180.5L377.9 182.1L378.0 183.6L378.1 184.8L378.2 185.9L378.3 186.7L378.4 187.2L378.5 187.5L378.6 187.5L378.8 187.3L378.9 186.8L379.0 186.2L379.1 185.3L379.2 184.3L379.3 183.1L379.4 181.8L379.5 180.5L379.6 179.2L379.7 177.9L379.9 176.7L380.0 175.5L380.1 174.5L380.2 173.7L380.3 173.0L380.4 172.6L380.5 172.5L380.6 172.6L380.7 172.9L380.8 173.6L380.9 174.5L381.1 175.7L381.2 177.1L381.3 178.7L381.4 180.5L381.5 182.5L381.6 184.6L381.7 186.7L381.8 189.0L381.9 191.2L382.0 193.4L382.1 195.5L382.3 197.4L382.4 199.2L382.5 200.9L382.6 202.3L382.7 203.4L382.8 204.3L382.9 204.9L383.0 205.2L383.1 205.2L383.2 205.0L383.3 204.4L383.5 203.7L383.6 202.7L383.7 201.5L383.8 200.2L383.9 198.7L384.0 197.2L384.1 195.6L384.2 194.1L384.3 192.6L384.4 191.2L384.6 190.0L384.7 188.9L384.8 188.1L384.9 187.4L385.0 187.1L385.1 187.1L385.2 187.3L385.3 187.8L385.4 188.7L385.5 189.8L385.6 191.2L385.8 192.8L385.9 194.7L386.0 196.7L386.1 198.9L386.2 201.2L386.3 203.6L386.4 205.9L386.5 208.3L386.6 210.5L386.7 212.7L386.8 214.6L387.0 216.4L387.1 217.9L387.2 219.2L387.3 220.1L387.4 220.8L387.5 221.1L387.6 221.2L387.7 220.9L387.8 220.3L387.9 219.5L388.0 218.4L388.2 217.1L388.3 215.6L388.4 213.9L388.5 212.2L388.6 210.4L388.7 208.6L388.8 206.9L388.9 205.3L389.0 203.8L389.1 202.5L389.2 201.4L389.4 200.6L389.5 200.1L389.6 199.8L389.7 199.9L389.8 200.3L389.9 201.1L390.0 202.1L390.1 203.5L390.2 205.1L390.3 207.0L390.5 209.1L390.6 211.3L390.7 213.7L390.8 216.1L390.9 218.6L391.0 221.1L391.1 223.5L391.2 225.7L391.3 227.8L391.4 229.7L391.5 231.3L391.7 232.7L391.8 233.7L391.9 234.4L392.0 234.8L392.1 234.9L392.2 234.6L392.3 234.0L392.4 233.1L392.5 231.9L392.6 230.5L392.7 228.8L392.9 227.0L393.0 225.1L393.1 223.1L393.2 221.1L393.3 219.2L393.4 217.3L393.5 215.6L393.6 214.1L393.7 212.8L393.8 211.7L393.9 211.0L394.1 210.6L394.2 210.5L394.3 210.8L394.4 211.4L394.5 212.3L394.6 213.6L394.7 215.2L394.8 217.0L394.9 219.1L395.0 221.3L395.2 223.8L395.3 226.3L395.4 228.8L395.5 231.4L395.6 233.8L395.7 236.2L395.8 238.4L395.9 240.4L396.0 242.1L396.1 243.5L396.2 244.7L396.4 245.4L396.5 245.9L396.6 245.9L396.7 245.7L396.8 245.0L396.9 244.1L397.0 242.8L397.1 241.3L397.2 239.5L397.3 237.6L397.4 235.5L397.6 233.4L397.7 231.2L397.8 229.1L397.9 227.0L398.0 225.1L398.1 223.3L398.2 221.8L398.3 220.5L398.4 219.6L398.5 219.0L398.6 218.7L398.8 218.8L398.9 219.3L399.0 220.1L399.1 221.2L399.2 222.7L399.3 224.5L399.4 226.5L399.5 228.7L399.6 231.1L399.7 233.7L399.9 236.2L400.0 238.8L400.1 241.3L400.2 243.8L400.3 246.0L400.4 248.1L400.5 249.9L400.6 251.4L400.7 252.6L400.8 253.4L400.9 253.9L401.1 254.0L401.2 253.7L401.3 253.1L401.4 252.1L401.5 250.8L401.6 249.2L401.7 247.4L401.8 245.3L401.9 243.2L402.0 240.9L402.1 238.5L402.3 236.2L402.4 234.0L402.5 231.8L402.6 229.9L402.7 228.2L402.8 226.7L402.9 225.6L403.0 224.8L403.1 224.3L403.2 224.2L403.3 224.5L403.5 225.2L403.6 226.2L403.7 227.5L403.8 229.2L403.9 231.1L404.0 233.3L404.1 235.6L404.2 238.1L404.3 240.7L404.4 243.3L404.6 245.8L404.7 248.2L404.8 250.5L404.9 252.6L405.0 254.5L405.1 256.0L405.2 257.3L405.3 258.1L405.4 258.7L405.5 258.8L405.6 258.5L405.8 257.9L405.9 256.9L406.0 255.6L406.1 254.0L406.2 252.1L406.3 250.0L406.4 247.7L406.5 245.3L406.6 242.9L406.7 240.4L406.8 238.1L407.0 235.8L407.1 233.7L407.2 231.8L407.3 230.1L407.4 228.8L407.5 227.8L407.6 227.1L407.7 226.9L407.8 227.0L407.9 227.4L408.0 228.3L408.2 229.5L408.3 231.0L408.4 232.8L408.5 234.9L408.6 237.1L408.7 239.5L408.8 242.0L408.9 244.6L409.0 247.1L409.1 249.5L409.2 251.8L409.4 253.9L409.5 255.7L409.6 257.3L409.7 258.6L409.8 259.5L409.9 260.0L410.0 260.2L410.1 260.0L410.2 259.4L410.3 258.4L410.5 257.1L410.6 255.5L410.7 253.6L410.8 251.4L410.9 249.1L411.0 246.7L411.1 244.2L411.2 241.6L411.3 239.1L411.4 236.7L411.5 234.5L411.7 232.4L411.8 230.6L411.9 229.1L412.0 228.0L412.1 227.1L412.2 226.7L412.3 226.6L412.4 226.9L412.5 227.6L412.6 228.6L412.7 229.9L412.9 231.6L413.0 233.5L413.1 235.6L413.2 237.9L413.3 240.3L413.4 242.7L413.5 245.1L413.6 247.5L413.7 249.7L413.8 251.8L413.9 253.6L414.1 255.2L414.2 256.4L414.3 257.4L414.4 257.9L414.5 258.1L414.6 257.9L414.7 257.4L414.8 256.5L414.9 255.2L415.0 253.6L415.2 251.7L415.3 249.6L415.4 247.3L415.5 244.8L415.6 242.2L415.7 239.7L415.8 237.1L415.9 234.6L416.0 232.3L416.1 230.1L416.2 228.2L416.4 226.6L416.5 225.3L416.6 224.3L416.7 223.6L416.8 223.4L416.9 223.5L417.0 224.0L417.1 224.8L417.2 226.0L417.3 227.4L417.4 229.1L417.6 231.1L417.7 233.2L417.8 235.4L417.9 237.7L418.0 240.0L418.1 242.3L418.2 244.4L418.3 246.4L418.4 248.2L418.5 249.7L418.6 251.0L418.8 251.9L418.9 252.5L419.0 252.7L419.1 252.5L419.2 252.0L419.3 251.1L419.4 249.9L419.5 248.4L419.6 246.5L419.7 244.5L419.9 242.2L420.0 239.7L420.1 237.2L420.2 234.6L420.3 232.1L420.4 229.6L420.5 227.2L420.6 225.0L420.7 223.0L420.8 221.2L420.9 219.8L421.1 218.6L421.2 217.8L421.3 217.4L421.4 217.3L421.5 217.6L421.6 218.3L421.7 219.2L421.8 220.5L421.9 222.0L422.0 223.7L422.1 225.6L422.3 227.7L422.4 229.8L422.5 232.0L422.6 234.1L422.7 236.1L422.8 238.0L422.9 239.7L423.0 241.2L423.1 242.4L423.2 243.3L423.3 243.8L423.5 244.1L423.6 243.9L423.7 243.5L423.8 242.6L423.9 241.5L424.0 240.0L424.1 238.2L424.2 236.2L424.3 234.0L424.4 231.7L424.5 229.2L424.7 226.7L424.8 224.1L424.9 221.6L425.0 219.3L425.1 217.0L425.2 215.0L425.3 213.2L425.4 211.6L425.5 210.4L425.6 209.5L425.8 208.9L425.9 208.6L426.0 208.7L426.1 209.2L426.2 209.9L426.3 211.0L426.4 212.3L426.5 213.8L426.6 215.5L426.7 217.3L426.8 219.2L427.0 221.2L427.1 223.1L427.2 225.0L427.3 226.7L427.4 228.3L427.5 229.7L427.6 230.8L427.7 231.7L427.8 232.2L427.9 232.5L428.0 232.4L428.2 231.9L428.3 231.2L428.4 230.1L428.5 228.7L428.6 227.1L428.7 225.2L428.8 223.1L428.9 220.8L429.0 218.4L429.1 216.0L429.2 213.5L429.4 211.1L429.5 208.8L429.6 206.5L429.7 204.5L429.8 202.7L429.9 201.1L430.0 199.7L430.1 198.7L430.2 198.0L430.3 197.6L430.5 197.6L430.6 197.8L430.7 198.3L430.8 199.2L430.9 200.2L431.0 201.5L431.1 203.0L431.2 204.6L431.3 206.3L431.4 208.0L431.5 209.7L431.7 211.4L431.8 213.0L431.9 214.4L432.0 215.7L432.1 216.7L432.2 217.5L432.3 218.1L432.4 218.3L432.5 218.2L432.6 217.8L432.7 217.1L432.9 216.1L433.0 214.9L433.1 213.3L433.2 211.6L433.3 209.6L433.4 207.5L433.5 205.2L433.6 202.9L433.7 200.6L433.8 198.2L433.9 196.0L434.1 193.8L434.2 191.8L434.3 190.0L434.4 188.4L434.5 187.0L434.6 185.9L434.7 185.1L434.8 184.6L434.9 184.4L435.0 184.5L435.2 184.8L435.3 185.4L435.4 186.2L435.5 187.3L435.6 188.5L435.7 189.9L435.8 191.3L435.9 192.8L436.0 194.3L436.1 195.8L436.2 197.2L436.4 198.5L436.5 199.6L436.6 200.6L436.7 201.3L436.8 201.8L436.9 202.0L437.0 201.9L437.1 201.5L437.2 200.9L437.3 200.0L437.4 198.8L437.6 197.4L437.7 195.8L437.8 194.0L437.9 192.0L438.0 190.0L438.1 187.8L438.2 185.6L438.3 183.4L438.4 181.3L438.5 179.2L438.6 177.3L438.8 175.5L438.9 173.9L439.0 172.6L439.1 171.5L439.2 170.6L439.3 170.0L439.4 169.6L439.5 169.5L439.6 169.7L439.7 170.1L439.8 170.7L440.0 171.5L440.1 172.5L440.2 173.6L440.3 174.9L440.4 176.1L440.5 177.4L440.6 178.7L440.7 179.9L440.8 181.0L440.9 182.0L441.1 182.8L441.2 183.4L441.3 183.8L441.4 184.0L441.5 183.9L441.6 183.6L441.7 183.0L441.8 182.2L441.9 181.2L442.0 179.9L442.1 178.4L442.3 176.8L442.4 175.0L442.5 173.1L442.6 171.1L442.7 169.1L442.8 167.1L442.9 165.1L443.0 163.2L443.1 161.4L443.2 159.7L443.3 158.2L443.5 156.8L443.6 155.7L443.7 154.8L443.8 154.1L443.9 153.7L444.0 153.4L444.1 153.5L444.2 153.7L444.3 154.1L444.4 154.7L444.5 155.5L444.7 156.4L444.8 157.3L444.9 158.4L445.0 159.4L445.1 160.5L445.2 161.5L445.3 162.4L445.4 163.2L445.5 163.9L445.6 164.4L445.8 164.8L445.9 164.9L446.0 164.8L446.1 164.5L446.2 164.0L446.3 163.3L446.4 162.4L446.5 161.3L446.6 160.0L446.7 158.5L446.8 156.9L447.0 155.2L447.1 153.4L447.2 151.6L447.3 149.8L447.4 147.9L447.5 146.2L447.6 144.5L447.7 142.9L447.8 141.5L447.9 140.2L448.0 139.1L448.2 138.2L448.3 137.5L448.4 137.0L448.5 136.7L448.6 136.6L448.7 136.6L448.8 136.9L448.9 137.3L449.0 137.8L449.1 138.5L449.2 139.3L449.4 140.1L449.5 140.9L449.6 141.7L449.7 142.5L449.8 143.3L449.9 144.0L450.0 144.5L450.1 144.9L450.2 145.2L450.3 145.3L450.4 145.2L450.6 145.0L450.7 144.5L450.8 143.9L450.9 143.1L451.0 142.1L451.1 140.9L451.2 139.6L451.3 138.2L451.4 136.7L451.5 135.2L451.7 133.6L451.8 131.9L451.9 130.3L452.0 128.7L452.1 127.2L452.2 125.8L452.3 124.4L452.4 123.3L452.5 122.2L452.6 121.3L452.7 120.6L452.9 120.0L453.0 119.7L453.1 119.5L453.2 119.4L453.3 119.5L453.4 119.8L453.5 120.1L453.6 120.6L453.7 121.2L453.8 121.8L453.9 122.4L454.1 123.0L454.2 123.7L454.3 124.2L454.4 124.8L454.5 125.2L454.6 125.5L454.7 125.7L454.8 125.8L454.9 125.7L455.0 125.4L455.1 125.0L455.3 124.5L455.4 123.8L455.5 122.9L455.6 121.9L455.7 120.8L455.8 119.6L455.9 118.3L456.0 117.0L456.1 115.6L456.2 114.1L456.4 112.7L456.5 111.3L456.6 110.0L456.7 108.7L456.8 107.5L456.9 106.4L457.0 105.5L457.1 104.6L457.2 103.9L457.3 103.4L457.4 102.9L457.6 102.7L457.7 102.5L457.8 102.5L457.9 102.6L458.0 102.9L458.1 103.2L458.2 103.5L458.3 104.0L458.4 104.4L458.5 104.9L458.6 105.4L458.8 105.8L458.9 106.2L459.0 106.5L459.1 106.7L459.2 106.9L459.3 106.9L459.4 106.8L459.5 106.6L459.6 106.2L459.7 105.7L459.8 105.1L460.0 104.4L460.1 103.6L460.2 102.6L460.3 101.6L460.4 100.5L460.5 99.4L460.6 98.2L460.7 96.9L460.8 95.7L460.9 94.5L461.1 93.4L461.2 92.2L461.3 91.2L461.4 90.2L461.5 89.4L461.6 88.6L461.7 87.9L461.8 87.4L461.9 87.0L462.0 86.7L462.1 86.5L462.3 86.4L462.4 86.4L462.5 86.5L462.6 86.7L462.7 86.9L462.8 87.2L462.9 87.5L463.0 87.9L463.1 88.2L463.2 88.5L463.3 88.8L463.5 89.0L463.6 89.1L463.7 89.2L463.8 89.2L463.9 89.1L464.0 88.9L464.1 88.6L464.2 88.2L464.3 87.7L464.4 87.1L464.5 86.4L464.7 85.6L464.8 84.8L464.9 83.9L465.0 82.9L465.1 81.9L465.2 80.9L465.3 79.9L465.4 78.8L465.5 77.9L465.6 76.9L465.8 76.0" stroke="#4a4a4a"/></g>
<g clip-path="url(#cb)" fill="none" stroke-width="1.15" stroke-linejoin="round"><path d="M83.2 550.1L83.4 548.4L83.5 546.3L83.6 543.9L83.7 541.4L83.8 539.0L83.9 536.7L84.0 534.8L84.1 533.3L84.2 532.3L84.3 532.0L84.5 532.3L84.6 533.2L84.7 534.7L84.8 536.6L84.9 538.8L85.0 541.2L85.1 543.7L85.2 546.0L85.3 548.1L85.4 549.8L85.5 551.0L85.7 551.5L85.8 551.5L85.9 550.8L86.0 549.6L86.1 547.8L86.2 545.7L86.3 543.3L86.4 540.8L86.5 538.3L86.6 536.0L86.7 534.0L86.9 532.5L87.0 531.5L87.1 531.2L87.2 531.4L87.3 532.3L87.4 533.7L87.5 535.5L87.6 537.7L87.7 540.1L87.8 542.5L87.9 544.8L88.1 546.8L88.2 548.4L88.3 549.5L88.4 550.0L88.5 550.0L88.6 549.3L88.7 548.0L88.8 546.2L88.9 544.0L89.0 541.6L89.2 539.1L89.3 536.6L89.4 534.2L89.5 532.3L89.6 530.7L89.7 529.7L89.8 529.3L89.9 529.5L90.0 530.3L90.1 531.7L90.2 533.5L90.4 535.6L90.5 537.9L90.6 540.2L90.7 542.4L90.8 544.4L90.9 545.9L91.0 547.0L91.1 547.5L91.2 547.3L91.3 546.6L91.4 545.3L91.6 543.5L91.7 541.3L91.8 538.9L91.9 536.4L92.0 533.9L92.1 531.5L92.2 529.6L92.3 528.0L92.4 527.0L92.5 526.6L92.6 526.7L92.8 527.5L92.9 528.8L93.0 530.5L93.1 532.5L93.2 534.7L93.3 537.0L93.4 539.1L93.5 540.9L93.6 542.4L93.7 543.4L93.9 543.8L94.0 543.7L94.1 542.9L94.2 541.6L94.3 539.8L94.4 537.6L94.5 535.2L94.6 532.7L94.7 530.2L94.8 527.9L94.9 525.9L95.1 524.4L95.2 523.3L95.3 522.9L95.4 523.0L95.5 523.7L95.6 524.9L95.7 526.5L95.8 528.5L95.9 530.6L96.0 532.7L96.1 534.8L96.3 536.5L96.4 537.9L96.5 538.8L96.6 539.2L96.7 539.0L96.8 538.2L96.9 536.9L97.0 535.1L97.1 533.0L97.2 530.6L97.3 528.1L97.5 525.6L97.6 523.4L97.7 521.4L97.8 519.8L97.9 518.8L98.0 518.3L98.1 518.4L98.2 519.0L98.3 520.2L98.4 521.7L98.5 523.5L98.7 525.6L98.8 527.6L98.9 529.5L99.0 531.2L99.1 532.5L99.2 533.3L99.3 533.6L99.4 533.4L99.5 532.6L99.6 531.3L99.8 529.5L99.9 527.4L100.0 525.0L100.1 522.6L100.2 520.2L100.3 517.9L100.4 516.0L100.5 514.5L100.6 513.5L100.7 512.9L100.8 513.0L101.0 513.6L101.1 514.6L101.2 516.0L101.3 517.8L101.4 519.7L101.5 521.6L101.6 523.4L101.7 524.9L101.8 526.1L101.9 526.9L102.0 527.2L102.2 526.9L102.3 526.1L102.4 524.8L102.5 523.0L102.6 520.9L102.7 518.7L102.8 516.3L102.9 513.9L103.0 511.7L103.1 509.8L103.2 508.3L103.4 507.3L103.5 506.8L103.6 506.8L103.7 507.3L103.8 508.3L103.9 509.6L104.0 511.2L104.1 513.0L104.2 514.7L104.3 516.4L104.5 517.9L104.6 519.0L104.7 519.6L104.8 519.9L104.9 519.5L105.0 518.7L105.1 517.4L105.2 515.7L105.3 513.7L105.4 511.5L105.5 509.2L105.7 506.9L105.8 504.8L105.9 502.9L106.0 501.5L106.1 500.5L106.2 499.9L106.3 499.9L106.4 500.3L106.5 501.2L106.6 502.4L106.7 503.9L106.9 505.5L107.0 507.2L107.1 508.7L107.2 510.0L107.3 511.0L107.4 511.6L107.5 511.8L107.6 511.5L107.7 510.6L107.8 509.4L107.9 507.7L108.1 505.8L108.2 503.6L108.3 501.4L108.4 499.2L108.5 497.2L108.6 495.4L108.7 494.0L108.8 493.0L108.9 492.4L109.0 492.3L109.2 492.7L109.3 493.5L109.4 494.6L109.5 495.9L109.6 497.4L109.7 498.9L109.8 500.3L109.9 501.6L110.0 502.5L110.1 503.0L110.2 503.1L110.4 502.7L110.5 501.9L110.6 500.7L110.7 499.1L110.8 497.2L110.9 495.1L111.0 493.0L111.1 490.9L111.2 488.9L111.3 487.2L111.4 485.9L111.6 484.9L111.7 484.3L111.8 484.2L111.9 484.5L112.0 485.2L112.1 486.2L112.2 487.4L112.3 488.8L112.4 490.1L112.5 491.4L112.6 492.5L112.8 493.3L112.9 493.7L113.0 493.8L113.1 493.4L113.2 492.6L113.3 491.4L113.4 489.9L113.5 488.1L113.6 486.1L113.7 484.1L113.8 482.1L114.0 480.2L114.1 478.6L114.2 477.2L114.3 476.3L114.4 475.7L114.5 475.6L114.6 475.8L114.7 476.4L114.8 477.3L114.9 478.4L115.1 479.6L115.2 480.8L115.3 482.0L115.4 482.9L115.5 483.6L115.6 484.0L115.7 484.0L115.8 483.6L115.9 482.8L116.0 481.6L116.1 480.2L116.3 478.5L116.4 476.6L116.5 474.7L116.6 472.8L116.7 471.0L116.8 469.5L116.9 468.2L117.0 467.3L117.1 466.7L117.2 466.6L117.3 466.7L117.5 467.2L117.6 468.0L117.7 469.0L117.8 470.1L117.9 471.1L118.0 472.1L118.1 473.0L118.2 473.6L118.3 473.9L118.4 473.8L118.5 473.4L118.7 472.6L118.8 471.5L118.9 470.1L119.0 468.5L119.1 466.8L119.2 465.0L119.3 463.2L119.4 461.5L119.5 460.1L119.6 458.9L119.8 458.0L119.9 457.4L120.0 457.2L120.1 457.3L120.2 457.8L120.3 458.4L120.4 459.3L120.5 460.2L120.6 461.1L120.7 462.0L120.8 462.7L121.0 463.2L121.1 463.5L121.2 463.4L121.3 463.0L121.4 462.2L121.5 461.1L121.6 459.8L121.7 458.3L121.8 456.7L121.9 455.0L122.0 453.3L122.2 451.8L122.3 450.4L122.4 449.2L122.5 448.4L122.6 447.9L122.7 447.6L122.8 447.7L122.9 448.0L123.0 448.6L123.1 449.3L123.2 450.1L123.4 450.9L123.5 451.7L123.6 452.3L123.7 452.7L123.8 452.9L123.9 452.7L124.0 452.3L124.1 451.6L124.2 450.6L124.3 449.4L124.5 447.9L124.6 446.4L124.7 444.8L124.8 443.3L124.9 441.8L125.0 440.6L125.1 439.5L125.2 438.7L125.3 438.1L125.4 437.9L125.5 437.9L125.7 438.2L125.8 438.6L125.9 439.3L126.0 439.9L126.1 440.6L126.2 441.3L126.3 441.8L126.4 442.1L126.5 442.2L126.6 442.0L126.7 441.6L126.9 440.9L127.0 440.0L127.1 438.8L127.2 437.5L127.3 436.1L127.4 434.6L127.5 433.2L127.6 431.9L127.7 430.7L127.8 429.7L127.9 428.9L128.1 428.4L128.2 428.1L128.3 428.1L128.4 428.3L128.5 428.7L128.6 429.2L128.7 429.7L128.8 430.3L128.9 430.8L129.0 431.2L129.2 431.5L129.3 431.5L129.4 431.3L129.5 430.9L129.6 430.3L129.7 429.4L129.8 428.3L129.9 427.1L130.0 425.8L130.1 424.4L130.2 423.1L130.4 421.9L130.5 420.8L130.6 419.9L130.7 419.1L130.8 418.6L130.9 418.4L131.0 418.3L131.1 418.4L131.2 418.7L131.3 419.1L131.4 419.6L131.6 420.1L131.7 420.5L131.8 420.8L131.9 421.0L132.0 421.0L132.1 420.8L132.2 420.4L132.3 419.7L132.4 418.9L132.5 417.9L132.6 416.8L132.8 415.6L132.9 414.4L133.0 413.2L133.1 412.1L133.2 411.0L133.3 410.2L133.4 409.5L133.5 409.0L133.6 408.7L133.7 408.6L133.8 408.7L134.0 408.9L134.1 409.3L134.2 409.6L134.3 410.0L134.4 410.3L134.5 410.6L134.6 410.7L134.7 410.7L134.8 410.4L134.9 410.0L135.1 409.4L135.2 408.7L135.3 407.8L135.4 406.7L135.5 405.7L135.6 404.5L135.7 403.4L135.8 402.4L135.9 401.5L136.0 400.7L136.1 400.1L136.3 399.6L136.4 399.3L136.5 399.2L136.6 399.2L136.7 399.4L136.8 399.6L136.9 399.9L137.0 400.2L137.1 400.5L137.2 400.6L137.3 400.7L137.5 400.6L137.6 400.4L137.7 400.0L137.8 399.4L137.9 398.7L138.0 397.9L138.1 397.0L138.2 396.0L138.3 395.0L138.4 394.0L138.5 393.1L138.7 392.2L138.8 391.5L138.9 390.9L139.0 390.5L139.1 390.2L139.2 390.1L139.3 390.0L139.4 390.1L139.5 390.3L139.6 390.5L139.8 390.8L139.9 391.0L140.0 391.1L140.1 391.1L140.2 391.0L140.3 390.8L140.4 390.4L140.5 389.9L140.6 389.2L140.7 388.5L140.8 387.6L141.0 386.7L141.1 385.8L141.2 384.9L141.3 384.1L141.4 383.3L141.5 382.7L141.6 382.1L141.7 381.7L141.8 381.4L141.9 381.3L142.0 381.3L142.2 381.3L142.3 381.4L142.4 381.6L142.5 381.8L142.6 381.9L142.7 382.0L142.8 382.0L142.9 381.8L143.0 381.6L143.1 381.3L143.2 380.8L143.4 380.2L143.5 379.5L143.6 378.8L143.7 378.0L143.8 377.1L143.9 376.3L144.0 375.6L144.1 374.9L144.2 374.3L144.3 373.8L144.4 373.4L144.6 373.1L144.7 373.0L144.8 372.9L144.9 373.0L145.0 373.0L145.1 373.1L145.2 373.3L145.3 373.4L145.4 373.4L145.5 373.4L145.7 373.2L145.8 373.0L145.9 372.7L146.0 372.3L146.1 371.7L146.2 371.1L146.3 370.4L146.4 369.7L146.5 369.0L146.6 368.3L146.7 367.6L146.9 367.0L147.0 366.4L147.1 366.0L147.2 365.6L147.3 365.4L147.4 365.2L147.5 365.1L147.6 365.1L147.7 365.2L147.8 365.3L147.9 365.4L148.1 365.4L148.2 365.4L148.3 365.4L148.4 365.3L148.5 365.1L148.6 364.8L148.7 364.4L148.8 363.9L148.9 363.3L149.0 362.7L149.1 362.1L149.3 361.4L149.4 360.8L149.5 360.2L149.6 359.6L149.7 359.1L149.8 358.7L149.9 358.4L150.0 358.2L150.1 358.0L150.2 358.0L150.4 357.9L150.5 358.0L150.6 358.0L150.7 358.1L150.8 358.1L150.9 358.2L151.0 358.1L151.1 358.0L151.2 357.8L151.3 357.5L151.4 357.2L151.6 356.7L151.7 356.2L151.8 355.7L151.9 355.1L152.0 354.5L152.1 354.0L152.2 353.4L152.3 352.9L152.4 352.5L152.5 352.1L152.6 351.8L152.8 351.6L152.9 351.5L153.0 351.4L153.1 351.4L153.2 351.5L153.3 351.5L153.4 351.6L153.5 351.6L153.6 351.6L153.7 351.6L153.8 351.4L154.0 351.3L154.1 351.0L154.2 350.7L154.3 350.3L154.4 349.9L154.5 349.4L154.6 348.9L154.7 348.4L154.8 347.9L154.9 347.4L155.1 347.0L155.2 346.6L155.3 346.3L155.4 346.0L155.5 345.8L155.6 345.7L155.7 345.6L155.8 345.6L155.9 345.7L156.0 345.7L156.1 345.8L156.3 345.8L156.4 345.8L156.5 345.8L156.6 345.7L156.7 345.6L156.8 345.4L156.9 345.1L157.0 344.7L157.1 344.4L157.2 343.9L157.3 343.5L157.5 343.0L157.6 342.6L157.7 342.1L157.8 341.8L157.9 341.4L158.0 341.1L158.1 340.9L158.2 340.8L158.3 340.7L158.4 340.6L158.5 340.6L158.7 340.7L158.8 340.7L158.9 340.8L159.0 340.9L159.1 340.9L159.2 340.9L159.3 340.8L159.4 340.7L159.5 340.5L159.6 340.3L159.8 340.0L159.9 339.6L160.0 339.3L160.1 338.9L160.2 338.5L160.3 338.1L160.4 337.7L160.5 337.3L160.6 337.0L160.7 336.8L160.8 336.6L161.0 336.5L161.1 336.4L161.2 336.4L161.3 336.4L161.4 336.5L161.5 336.6L161.6 336.7L161.7 336.7L161.8 336.8L161.9 336.8L162.0 336.8L162.2 336.7L162.3 336.6L162.4 336.4L162.5 336.1L162.6 335.8L162.7 335.5L162.8 335.1L162.9 334.8L163.0 334.4L163.1 334.1L163.2 333.8L163.4 333.5L163.5 333.3L163.6 333.2L163.7 333.1L163.8 333.0L163.9 333.1L164.0 333.1L164.1 333.2L164.2 333.3L164.3 333.4L164.4 333.5L164.6 333.6L164.7 333.7L164.8 333.7L164.9 333.6L165.0 333.5L165.1 333.3L165.2 333.1L165.3 332.9L165.4 332.6L165.5 332.3L165.7 332.0L165.8 331.7L165.9 331.4L166.0 331.1L166.1 330.9L166.2 330.7L166.3 330.6L166.4 330.6L166.5 330.6L166.6 330.6L166.7 330.7L166.9 330.8L167.0 330.9L167.1 331.1L167.2 331.2L167.3 331.3L167.4 331.4L167.5 331.4L167.6 331.4L167.7 331.4L167.8 331.2L167.9 331.1L168.1 330.9L168.2 330.6L168.3 330.4L168.4 330.1L168.5 329.8L168.6 329.6L168.7 329.3L168.8 329.2L168.9 329.0L169.0 328.9L169.1 328.9L169.3 329.0L169.4 329.0L169.5 329.2L169.6 329.3L169.7 329.5L169.8 329.7L169.9 329.8L170.0 330.0L170.1 330.1L170.2 330.2L170.4 330.2L170.5 330.2L170.6 330.1L170.7 330.0L170.8 329.8L170.9 329.6L171.0 329.3L171.1 329.1L171.2 328.9L171.3 328.7L171.4 328.5L171.6 328.3L171.7 328.2L171.8 328.2L171.9 328.2L172.0 328.3L172.1 328.4L172.2 328.6L172.3 328.8L172.4 329.0L172.5 329.2L172.6 329.4L172.8 329.6L172.9 329.7L173.0 329.8L173.1 329.9L173.2 329.9L173.3 329.9L173.4 329.8L173.5 329.6L173.6 329.5L173.7 329.3L173.8 329.1L174.0 328.9L174.1 328.7L174.2 328.5L174.3 328.4L174.4 328.4L174.5 328.4L174.6 328.4L174.7 328.5L174.8 328.7L174.9 328.9L175.1 329.1L175.2 329.4L175.3 329.6L175.4 329.9L175.5 330.1L175.6 330.3L175.7 330.4L175.8 330.5L175.9 330.6L176.0 330.6L176.1 330.5L176.3 330.4L176.4 330.3L176.5 330.1L176.6 330.0L176.7 329.8L176.8 329.7L176.9 329.6L177.0 329.5L177.1 329.5L177.2 329.5L177.3 329.6L177.5 329.7L177.6 329.9L177.7 330.2L177.8 330.4L177.9 330.7L178.0 331.0L178.1 331.3L178.2 331.6L178.3 331.8L178.4 332.0L178.5 332.1L178.7 332.2L178.8 332.2L178.9 332.2L179.0 332.1L179.1 332.0L179.2 331.9L179.3 331.8L179.4 331.7L179.5 331.6L179.6 331.5L179.7 331.4L179.9 331.5L180.0 331.5L180.1 331.7L180.2 331.8L180.3 332.1L180.4 332.4L180.5 332.7L180.6 333.0L180.7 333.3L180.8 333.6L181.0 333.9L181.1 334.2L181.2 334.4L181.3 334.6L181.4 334.7L181.5 334.8L181.6 334.8L181.7 334.8L181.8 334.7L181.9 334.6L182.0 334.5L182.2 334.4L182.3 334.3L182.4 334.3L182.5 334.3L182.6 334.3L182.7 334.5L182.8 334.6L182.9 334.8L183.0 335.1L183.1 335.4L183.2 335.8L183.4 336.2L183.5 336.5L183.6 336.9L183.7 337.2L183.8 337.6L183.9 337.8L184.0 338.0L184.1 338.2L184.2 338.3L184.3 338.3L184.4 338.3L184.6 338.3L184.7 338.2L184.8 338.1L184.9 338.1L185.0 338.0L185.1 338.0L185.2 338.0L185.3 338.1L185.4 338.2L185.5 338.4L185.7 338.7L185.8 339.0L185.9 339.4L186.0 339.8L186.1 340.2L186.2 340.6L186.3 341.0L186.4 341.4L186.5 341.8L186.6 342.1L186.7 342.3L186.9 342.5L187.0 342.7L187.1 342.7L187.2 342.8L187.3 342.7L187.4 342.7L187.5 342.6L187.6 342.6L187.7 342.5L187.8 342.5L187.9 342.6L188.1 342.7L188.2 342.8L188.3 343.1L188.4 343.4L188.5 343.7L188.6 344.2L188.7 344.6L188.8 345.1L188.9 345.6L189.0 346.0L189.1 346.5L189.3 346.9L189.4 347.2L189.5 347.5L189.6 347.8L189.7 347.9L189.8 348.0L189.9 348.0L190.0 348.0L190.1 348.0L190.2 347.9L190.4 347.9L190.5 347.9L190.6 347.9L190.7 347.9L190.8 348.1L190.9 348.2L191.0 348.5L191.1 348.9L191.2 349.3L191.3 349.7L191.4 350.2L191.6 350.8L191.7 351.3L191.8 351.8L191.9 352.3L192.0 352.8L192.1 353.2L192.2 353.5L192.3 353.8L192.4 354.0L192.5 354.1L192.6 354.1L192.8 354.1L192.9 354.1L193.0 354.0L193.1 354.0L193.2 353.9L193.3 354.0L193.4 354.0L193.5 354.2L193.6 354.4L193.7 354.7L193.8 355.1L194.0 355.5L194.1 356.0L194.2 356.6L194.3 357.2L194.4 357.8L194.5 358.4L194.6 359.0L194.7 359.5L194.8 360.0L194.9 360.3L195.0 360.6L195.2 360.8L195.3 360.9L195.4 361.0L195.5 361.0L195.6 360.9L195.7 360.9L195.8 360.8L195.9 360.7L196.0 360.7L196.1 360.8L196.3 361.0L196.4 361.2L196.5 361.5L196.6 362.0L196.7 362.5L196.8 363.1L196.9 363.7L197.0 364.4L197.1 365.1L197.2 365.7L197.3 366.4L197.5 366.9L197.6 367.4L197.7 367.8L197.8 368.2L197.9 368.4L198.0 368.5L198.1 368.5L198.2 368.5L198.3 368.4L198.4 368.4L198.5 368.3L198.7 368.2L198.8 368.2L198.9 368.2L199.0 368.4L199.1 368.7L199.2 369.0L199.3 369.5L199.4 370.1L199.5 370.7L199.6 371.4L199.7 372.2L199.9 372.9L200.0 373.7L200.1 374.4L200.2 375.0L200.3 375.6L200.4 376.0L200.5 376.4L200.6 376.6L200.7 376.7L200.8 376.8L201.0 376.7L201.1 376.6L201.2 376.5L201.3 376.3L201.4 376.2L201.5 376.2L201.6 376.2L201.7 376.4L201.8 376.7L201.9 377.1L202.0 377.6L202.2 378.2L202.3 378.9L202.4 379.7L202.5 380.6L202.6 381.4L202.7 382.2L202.8 383.0L202.9 383.7L203.0 384.4L203.1 384.8L203.2 385.2L203.4 385.4L203.5 385.5L203.6 385.5L203.7 385.5L203.8 385.3L203.9 385.1L204.0 384.9L204.1 384.8L204.2 384.7L204.3 384.7L204.4 384.9L204.6 385.2L204.7 385.6L204.8 386.1L204.9 386.8L205.0 387.6L205.1 388.5L205.2 389.4L205.3 390.4L205.4 391.3L205.5 392.2L205.7 393.0L205.8 393.6L205.9 394.2L206.0 394.6L206.1 394.8L206.2 394.9L206.3 394.8L206.4 394.7L206.5 394.5L206.6 394.2L206.7 394.0L206.9 393.8L207.0 393.7L207.1 393.7L207.2 393.8L207.3 394.1L207.4 394.5L207.5 395.1L207.6 395.9L207.7 396.8L207.8 397.7L207.9 398.8L208.1 399.8L208.2 400.8L208.3 401.8L208.4 402.7L208.5 403.4L208.6 404.0L208.7 404.4L208.8 404.6L208.9 404.7L209.0 404.6L209.1 404.4L209.3 404.1L209.4 403.8L209.5 403.4L209.6 403.2L209.7 403.0L209.8 402.9L209.9 403.0L210.0 403.3L210.1 403.8L210.2 404.5L210.3 405.3L210.5 406.2L210.6 407.3L210.7 408.4L210.8 409.6L210.9 410.7L211.0 411.8L211.1 412.7L211.2 413.5L211.3 414.1L211.4 414.5L211.6 414.8L211.7 414.8L211.8 414.6L211.9 414.4L212.0 414.0L212.1 413.6L212.2 413.2L212.3 412.8L212.4 412.6L212.5 412.5L212.6 412.6L212.8 412.8L212.9 413.3L213.0 414.0L213.1 414.9L213.2 416.0L213.3 417.1L213.4 418.4L213.5 419.7L213.6 420.9L213.7 422.1L213.8 423.1L214.0 423.9L214.1 424.6L214.2 425.0L214.3 425.2L214.4 425.2L214.5 425.0L214.6 424.6L214.7 424.1L214.8 423.6L214.9 423.1L215.0 422.7L215.2 422.4L215.3 422.2L215.4 422.2L215.5 422.5L215.6 423.0L215.7 423.8L215.8 424.7L215.9 425.9L216.0 427.1L216.1 428.5L216.3 429.9L216.4 431.2L216.5 432.5L216.6 433.6L216.7 434.5L216.8 435.2L216.9 435.6L217.0 435.8L217.1 435.7L217.2 435.4L217.3 435.0L217.5 434.4L217.6 433.8L217.7 433.2L217.8 432.7L217.9 432.2L218.0 432.0L218.1 432.0L218.2 432.3L218.3 432.8L218.4 433.6L218.5 434.6L218.7 435.9L218.8 437.2L218.9 438.7L219.0 440.2L219.1 441.7L219.2 443.0L219.3 444.2L219.4 445.2L219.5 445.9L219.6 446.3L219.7 446.5L219.9 446.3L220.0 446.0L220.1 445.4L220.2 444.8L220.3 444.0L220.4 443.3L220.5 442.6L220.6 442.1L220.7 441.8L220.8 441.8L220.9 442.0L221.1 442.6L221.2 443.4L221.3 444.5L221.4 445.8L221.5 447.3L221.6 448.9L221.7 450.5L221.8 452.1L221.9 453.6L222.0 454.8L222.2 455.8L222.3 456.6L222.4 457.0L222.5 457.1L222.6 456.9L222.7 456.5L222.8 455.8L222.9 455.0L223.0 454.2L223.1 453.3L223.2 452.5L223.4 451.9L223.5 451.6L223.6 451.5L223.7 451.7L223.8 452.2L223.9 453.1L224.0 454.3L224.1 455.7L224.2 457.3L224.3 459.0L224.4 460.7L224.6 462.4L224.7 464.0L224.8 465.3L224.9 466.4L225.0 467.2L225.1 467.6L225.2 467.7L225.3 467.4L225.4 466.9L225.5 466.1L225.6 465.2L225.8 464.2L225.9 463.2L226.0 462.3L226.1 461.6L226.2 461.1L226.3 461.0L226.4 461.2L226.5 461.7L226.6 462.6L226.7 463.9L226.9 465.4L227.0 467.1L227.1 468.9L227.2 470.7L227.3 472.5L227.4 474.2L227.5 475.6L227.6 476.7L227.7 477.5L227.8 477.9L227.9 478.0L228.1 477.6L228.2 477.0L228.3 476.1L228.4 475.1L228.5 473.9L228.6 472.8L228.7 471.8L228.8 471.0L228.9 470.4L229.0 470.2L229.1 470.4L229.3 470.9L229.4 471.9L229.5 473.2L229.6 474.7L229.7 476.6L229.8 478.5L229.9 480.5L230.0 482.4L230.1 484.1L230.2 485.6L230.3 486.8L230.5 487.6L230.6 488.0L230.7 487.9L230.8 487.5L230.9 486.8L231.0 485.8L231.1 484.6L231.2 483.3L231.3 482.1L231.4 480.9L231.6 480.0L231.7 479.4L231.8 479.1L231.9 479.2L232.0 479.8L232.1 480.7L232.2 482.1L232.3 483.8L232.4 485.7L232.5 487.7L232.6 489.8L232.8 491.8L232.9 493.6L233.0 495.2L233.1 496.4L233.2 497.2L233.3 497.6L233.4 497.5L233.5 497.0L233.6 496.2L233.7 495.0L233.8 493.7L234.0 492.3L234.1 490.9L234.2 489.6L234.3 488.6L234.4 487.8L234.5 487.5L234.6 487.6L234.7 488.2L234.8 489.2L234.9 490.6L235.0 492.3L235.2 494.3L235.3 496.4L235.4 498.6L235.5 500.7L235.6 502.6L235.7 504.2L235.8 505.5L235.9 506.3L236.0 506.6L236.1 506.5L236.2 506.0L236.4 505.0L236.5 503.8L236.6 502.3L236.7 500.7L236.8 499.2L236.9 497.8L237.0 496.6L237.1 495.8L237.2 495.4L237.3 495.5L237.5 496.0L237.6 497.0L237.7 498.5L237.8 500.3L237.9 502.4L238.0 504.6L238.1 506.9L238.2 509.0L238.3 511.0L238.4 512.7L238.5 514.0L238.7 514.8L238.8 515.1L238.9 514.9L239.0 514.3L239.1 513.2L239.2 511.9L239.3 510.3L239.4 508.6L239.5 506.9L239.6 505.4L239.7 504.1L239.9 503.2L240.0 502.7L240.1 502.7L240.2 503.3L240.3 504.3L240.4 505.8L240.5 507.7L240.6 509.8L240.7 512.1L240.8 514.4L240.9 516.7L241.1 518.7L241.2 520.5L241.3 521.8L241.4 522.6L241.5 522.9L241.6 522.6L241.7 521.9L241.8 520.8L241.9 519.3L242.0 517.6L242.2 515.7L242.3 513.9L242.4 512.3L242.5 510.9L242.6 509.9L242.7 509.4L242.8 509.3L242.9 509.9L243.0 510.9L243.1 512.4L243.2 514.3L243.4 516.5L243.5 518.9L243.6 521.3L243.7 523.6L243.8 525.7L243.9 527.5L244.0 528.8L244.1 529.6L244.2 529.9L244.3 529.6L244.4 528.8L244.6 527.5L244.7 525.9L244.8 524.1L244.9 522.1L245.0 520.2L245.1 518.4L245.2 516.9L245.3 515.9L245.4 515.3L245.5 515.2L245.6 515.7L245.8 516.7L245.9 518.3L246.0 520.2L246.1 522.5L246.2 524.9L246.3 527.4L246.4 529.7L246.5 531.9L246.6 533.6L246.7 535.0L246.9 535.7L247.0 536.0L247.1 535.6L247.2 534.8L247.3 533.4L247.4 531.7L247.5 529.8L247.6 527.7L247.7 525.6L247.8 523.7L247.9 522.2L248.1 521.0L248.2 520.4L248.3 520.3L248.4 520.7L248.5 521.8L248.6 523.3L248.7 525.3L248.8 527.6L248.9 530.0L249.0 532.5L249.1 535.0L249.3 537.1L249.4 538.9L249.5 540.2L249.6 541.0L249.7 541.2L249.8 540.8L249.9 539.8L250.0 538.4L250.1 536.6L250.2 534.5L250.3 532.4L250.5 530.2L250.6 528.2L250.7 526.6L250.8 525.3L250.9 524.6L251.0 524.5L251.1 524.9L251.2 525.9L251.3 527.5L251.4 529.5L251.6 531.8L251.7 534.3L251.8 536.8L251.9 539.2L252.0 541.4L252.1 543.2L252.2 544.5L252.3 545.3L252.4 545.4L252.5 545.0L252.6 543.9L252.8 542.4L252.9 540.5L253.0 538.4L253.1 536.1L253.2 533.9L253.3 531.8L253.4 530.0L253.5 528.7L253.6 528.0L253.7 527.8L253.8 528.2L254.0 529.2L254.1 530.7L254.2 532.7L254.3 535.0L254.4 537.6L254.5 540.1L254.6 542.5L254.7 544.7L254.8 546.5L254.9 547.8L255.0 548.5L255.2 548.6L255.3 548.1L255.4 547.0L255.5 545.5L255.6 543.5L255.7 541.2L255.8 538.9L255.9 536.6L256.0 534.4L256.1 532.6L256.2 531.2L256.4 530.4L256.5 530.2L256.6 530.6L256.7 531.5L256.8 533.1L256.9 535.0L257.0 537.4L257.1 539.9L257.2 542.4L257.3 544.8L257.5 547.0L257.6 548.8L257.7 550.0L257.8 550.7L257.9 550.8L258.0 550.2L258.1 549.1L258.2 547.4L258.3 545.4L258.4 543.1L258.5 540.7L258.7 538.3L258.8 536.1L258.9 534.2L259.0 532.8L259.1 531.9L259.2 531.6L259.3 532.0L259.4 532.9L259.5 534.4L259.6 536.4L259.7 538.7L259.9 541.1L260.0 543.7L260.1 546.1L260.2 548.2L260.3 549.9L260.4 551.2L260.5 551.8L260.6 551.8L260.7 551.2L260.8 550.0L260.9 548.4L261.1 546.3L261.2 543.9L261.3 541.4L261.4 539.0L261.5 536.7L261.6 534.8L261.7 533.3L261.8 532.4L261.9 532.1L262.0 532.4L262.2 533.3L262.3 534.8L262.4 536.7L262.5 539.0L262.6 541.4L262.7 543.9L262.8 546.3L262.9 548.4L263.0 550.0L263.1 551.2L263.2 551.8L263.4 551.8L263.5 551.2L263.6 549.9L263.7 548.2L263.8 546.1L263.9 543.7L264.0 541.1L264.1 538.7L264.2 536.4L264.3 534.4L264.4 532.9L264.6 532.0L264.7 531.6L264.8 531.9L264.9 532.8L265.0 534.2L265.1 536.1L265.2 538.3L265.3 540.7L265.4 543.1L265.5 545.4L265.6 547.4L265.8 549.1L265.9 550.2L266.0 550.8L266.1 550.7L266.2 550.0L266.3 548.8L266.4 547.0L266.5 544.8L266.6 542.4L266.7 539.9L266.9 537.4L267.0 535.0L267.1 533.1L267.2 531.5L267.3 530.6L267.4 530.2L267.5 530.4L267.6 531.2L267.7 532.6L267.8 534.4L267.9 536.6L268.1 538.9L268.2 541.2L268.3 543.5L268.4 545.5L268.5 547.0L268.6 548.1L268.7 548.6L268.8 548.5L268.9 547.8L269.0 546.5L269.1 544.7L269.3 542.5L269.4 540.1L269.5 537.6L269.6 535.0L269.7 532.7L269.8 530.7L269.9 529.2L270.0 528.2L270.1 527.8L270.2 528.0L270.3 528.7L270.5 530.0L270.6 531.8L270.7 533.9L270.8 536.1L270.9 538.4L271.0 540.5L271.1 542.4L271.2 543.9L271.3 545.0L271.4 545.4L271.5 545.3L271.7 544.5L271.8 543.2L271.9 541.4L272.0 539.2L272.1 536.8L272.2 534.3L272.3 531.8L272.4 529.5L272.5 527.5L272.6 525.9L272.8 524.9L272.9 524.5L273.0 524.6L273.1 525.3L273.2 526.6L273.3 528.2L273.4 530.2L273.5 532.4L273.6 534.5L273.7 536.6L273.8 538.4L274.0 539.8L274.1 540.8L274.2 541.2L274.3 541.0L274.4 540.2L274.5 538.9L274.6 537.1L274.7 535.0L274.8 532.5L274.9 530.0L275.0 527.6L275.2 525.3L275.3 523.3L275.4 521.8L275.5 520.7L275.6 520.3L275.7 520.4L275.8 521.0L275.9 522.2L276.0 523.7L276.1 525.6L276.2 527.7L276.4 529.8L276.5 531.7L276.6 533.4L276.7 534.8L276.8 535.6L276.9 536.0L277.0 535.7L277.1 535.0L277.2 533.6L277.3 531.9L277.5 529.7L277.6 527.4L277.7 524.9L277.8 522.5L277.9 520.2L278.0 518.3L278.1 516.7L278.2 515.7L278.3 515.2L278.4 515.3L278.5 515.9L278.7 516.9L278.8 518.4L278.9 520.2L279.0 522.1L279.1 524.1L279.2 525.9L279.3 527.5L279.4 528.8L279.5 529.6L279.6 529.9L279.7 529.6L279.9 528.8L280.0 527.5L280.1 525.7L280.2 523.6L280.3 521.3L280.4 518.9L280.5 516.5L280.6 514.3L280.7 512.4L280.8 510.9L280.9 509.9L281.1 509.3L281.2 509.4L281.3 509.9L281.4 510.9L281.5 512.3L281.6 513.9L281.7 515.7L281.8 517.6L281.9 519.3L282.0 520.8L282.1 521.9L282.3 522.6L282.4 522.9L282.5 522.6L282.6 521.8L282.7 520.5L282.8 518.7L282.9 516.7L283.0 514.4L283.1 512.1L283.2 509.8L283.4 507.7L283.5 505.8L283.6 504.3L283.7 503.3L283.8 502.7L283.9 502.7L284.0 503.2L284.1 504.1L284.2 505.4L284.3 506.9L284.4 508.6L284.6 510.3L284.7 511.9L284.8 513.2L284.9 514.3L285.0 514.9L285.1 515.1L285.2 514.8L285.3 514.0L285.4 512.7L285.5 511.0L285.6 509.0L285.8 506.9L285.9 504.6L286.0 502.4L286.1 500.3L286.2 498.5L286.3 497.0L286.4 496.0L286.5 495.5L286.6 495.4L286.7 495.8L286.8 496.6L287.0 497.8L287.1 499.2L287.2 500.7L287.3 502.3L287.4 503.8L287.5 505.0L287.6 506.0L287.7 506.5L287.8 506.6L287.9 506.3L288.1 505.5L288.2 504.2L288.3 502.6L288.4 500.7L288.5 498.6L288.6 496.4L288.7 494.3L288.8 492.3L288.9 490.6L289.0 489.2L289.1 488.2L289.3 487.6L289.4 487.5L289.5 487.8L289.6 488.6L289.7 489.6L289.8 490.9L289.9 492.3L290.0 493.7L290.1 495.0L290.2 496.2L290.3 497.0L290.5 497.5L290.6 497.6L290.7 497.2L290.8 496.4L290.9 495.2L291.0 493.6L291.1 491.8L291.2 489.8L291.3 487.7L291.4 485.7L291.5 483.8L291.7 482.1L291.8 480.7L291.9 479.8L292.0 479.2L292.1 479.1L292.2 479.4L292.3 480.0L292.4 480.9L292.5 482.1L292.6 483.3L292.8 484.6L292.9 485.8L293.0 486.8L293.1 487.5L293.2 487.9L293.3 488.0L293.4 487.6L293.5 486.8L293.6 485.6L293.7 484.1L293.8 482.4L294.0 480.5L294.1 478.5L294.2 476.6L294.3 474.7L294.4 473.2L294.5 471.9L294.6 470.9L294.7 470.4L294.8 470.2L294.9 470.4L295.0 471.0L295.2 471.8L295.3 472.8L295.4 473.9L295.5 475.1L295.6 476.1L295.7 477.0L295.8 477.6L295.9 478.0L296.0 477.9L296.1 477.5L296.2 476.7L296.4 475.6L296.5 474.2L296.6 472.5L296.7 470.7L296.8 468.9L296.9 467.1L297.0 465.4L297.1 463.9L297.2 462.6L297.3 461.7L297.5 461.2L297.6 461.0L297.7 461.1L297.8 461.6L297.9 462.3L298.0 463.2L298.1 464.2L298.2 465.2L298.3 466.1L298.4 466.9L298.5 467.4L298.7 467.7L298.8 467.6L298.9 467.2L299.0 466.4L299.1 465.3L299.2 464.0L299.3 462.4L299.4 460.7L299.5 459.0L299.6 457.3L299.7 455.7L299.9 454.3L300.0 453.1L300.1 452.2L300.2 451.7L300.3 451.5L300.4 451.6L300.5 451.9L300.6 452.5L300.7 453.3L300.8 454.2L300.9 455.0L301.1 455.8L301.2 456.5L301.3 456.9L301.4 457.1L301.5 457.0L301.6 456.6L301.7 455.8L301.8 454.8L301.9 453.6L302.0 452.1L302.1 450.5L302.3 448.9L302.4 447.3L302.5 445.8L302.6 444.5L302.7 443.4L302.8 442.6L302.9 442.0L303.0 441.8L303.1 441.8L303.2 442.1L303.4 442.6L303.5 443.3L303.6 444.0L303.7 444.8L303.8 445.4L303.9 446.0L304.0 446.3L304.1 446.5L304.2 446.3L304.3 445.9L304.4 445.2L304.6 444.2L304.7 443.0L304.8 441.7L304.9 440.2L305.0 438.7L305.1 437.2L305.2 435.9L305.3 434.6L305.4 433.6L305.5 432.8L305.6 432.3L305.8 432.0L305.9 432.0L306.0 432.2L306.1 432.7L306.2 433.2L306.3 433.8L306.4 434.4L306.5 435.0L306.6 435.4L306.7 435.7L306.8 435.8L307.0 435.6L307.1 435.2L307.2 434.5L307.3 433.6L307.4 432.5L307.5 431.2L307.6 429.9L307.7 428.5L307.8 427.1L307.9 425.9L308.1 424.7L308.2 423.8L308.3 423.0L308.4 422.5L308.5 422.2L308.6 422.2L308.7 422.4L308.8 422.7L308.9 423.1L309.0 423.6L309.1 424.1L309.3 424.6L309.4 425.0L309.5 425.2L309.6 425.2L309.7 425.0L309.8 424.6L309.9 423.9L310.0 423.1L310.1 422.1L310.2 420.9L310.3 419.7L310.5 418.4L310.6 417.1L310.7 416.0L310.8 414.9L310.9 414.0L311.0 413.3L311.1 412.8L311.2 412.6L311.3 412.5L311.4 412.6L311.5 412.8L311.7 413.2L311.8 413.6L311.9 414.0L312.0 414.4L312.1 414.6L312.2 414.8L312.3 414.8L312.4 414.5L312.5 414.1L312.6 413.5L312.8 412.7L312.9 411.8L313.0 410.7L313.1 409.6L313.2 408.4L313.3 407.3L313.4 406.2L313.5 405.3L313.6 404.5L313.7 403.8L313.8 403.3L314.0 403.0L314.1 402.9L314.2 403.0L314.3 403.2L314.4 403.4L314.5 403.8L314.6 404.1L314.7 404.4L314.8 404.6L314.9 404.7L315.0 404.6L315.2 404.4L315.3 404.0L315.4 403.4L315.5 402.7L315.6 401.8L315.7 400.8L315.8 399.8L315.9 398.8L316.0 397.7L316.1 396.8L316.2 395.9L316.4 395.1L316.5 394.5L316.6 394.1L316.7 393.8L316.8 393.7L316.9 393.7L317.0 393.8L317.1 394.0L317.2 394.2L317.3 394.5L317.4 394.7L317.6 394.8L317.7 394.9L317.8 394.8L317.9 394.6L318.0 394.2L318.1 393.6L318.2 393.0L318.3 392.2L318.4 391.3L318.5 390.4L318.7 389.4L318.8 388.5L318.9 387.6L319.0 386.8L319.1 386.1L319.2 385.6L319.3 385.2L319.4 384.9L319.5 384.7L319.6 384.7L319.7 384.8L319.9 384.9L320.0 385.1L320.1 385.3L320.2 385.5L320.3 385.5L320.4 385.5L320.5 385.4L320.6 385.2L320.7 384.8L320.8 384.4L320.9 383.7L321.1 383.0L321.2 382.2L321.3 381.4L321.4 380.6L321.5 379.7L321.6 378.9L321.7 378.2L321.8 377.6L321.9 377.1L322.0 376.7L322.1 376.4L322.3 376.2L322.4 376.2L322.5 376.2L322.6 376.3L322.7 376.5L322.8 376.6L322.9 376.7L323.0 376.8L323.1 376.7L323.2 376.6L323.4 376.4L323.5 376.0L323.6 375.6L323.7 375.0L323.8 374.4L323.9 373.7L324.0 372.9L324.1 372.2L324.2 371.4L324.3 370.7L324.4 370.1L324.6 369.5L324.7 369.0L324.8 368.7L324.9 368.4L325.0 368.2L325.1 368.2L325.2 368.2L325.3 368.3L325.4 368.4L325.5 368.4L325.6 368.5L325.8 368.5L325.9 368.5L326.0 368.4L326.1 368.2L326.2 367.8L326.3 367.4L326.4 366.9L326.5 366.4L326.6 365.7L326.7 365.1L326.8 364.4L327.0 363.7L327.1 363.1L327.2 362.5L327.3 362.0L327.4 361.5L327.5 361.2L327.6 361.0L327.7 360.8L327.8 360.7L327.9 360.7L328.1 360.8L328.2 360.9L328.3 360.9L328.4 361.0L328.5 361.0L328.6 360.9L328.7 360.8L328.8 360.6L328.9 360.3L329.0 360.0L329.1 359.5L329.3 359.0L329.4 358.4L329.5 357.8L329.6 357.2L329.7 356.6L329.8 356.0L329.9 355.5L330.0 355.1L330.1 354.7L330.2 354.4L330.3 354.2L330.5 354.0L330.6 354.0L330.7 353.9L330.8 354.0L330.9 354.0L331.0 354.1L331.1 354.1L331.2 354.1L331.3 354.1L331.4 354.0L331.5 353.8L331.7 353.5L331.8 353.2L331.9 352.8L332.0 352.3L332.1 351.8L332.2 351.3L332.3 350.8L332.4 350.2L332.5 349.7L332.6 349.3L332.7 348.9L332.9 348.5L333.0 348.2L333.1 348.1L333.2 347.9L333.3 347.9L333.4 347.9L333.5 347.9L333.6 347.9L333.7 348.0L333.8 348.0L334.0 348.0L334.1 348.0L334.2 347.9L334.3 347.8L334.4 347.5L334.5 347.2L334.6 346.9L334.7 346.5L334.8 346.0L334.9 345.6L335.0 345.1L335.2 344.6L335.3 344.2L335.4 343.7L335.5 343.4L335.6 343.1L335.7 342.8L335.8 342.7L335.9 342.6L336.0 342.5L336.1 342.5L336.2 342.6L336.4 342.6L336.5 342.7L336.6 342.7L336.7 342.8L336.8 342.7L336.9 342.7L337.0 342.5L337.1 342.3L337.2 342.1L337.3 341.8L337.4 341.4L337.6 341.0L337.7 340.6L337.8 340.2L337.9 339.8L338.0 339.4L338.1 339.0L338.2 338.7L338.3 338.4L338.4 338.2L338.5 338.1L338.7 338.0L338.8 338.0L338.9 338.0L339.0 338.1L339.1 338.1L339.2 338.2L339.3 338.3L339.4 338.3L339.5 338.3L339.6 338.3L339.7 338.2L339.9 338.0L340.0 337.8L340.1 337.6L340.2 337.2L340.3 336.9L340.4 336.5L340.5 336.2L340.6 335.8L340.7 335.4L340.8 335.1L340.9 334.8L341.1 334.6L341.2 334.5L341.3 334.3L341.4 334.3L341.5 334.3L341.6 334.3L341.7 334.4L341.8 334.5L341.9 334.6L342.0 334.7L342.1 334.8L342.3 334.8L342.4 334.8L342.5 334.7L342.6 334.6L342.7 334.4L342.8 334.2L342.9 333.9L343.0 333.6L343.1 333.3L343.2 333.0L343.4 332.7L343.5 332.4L343.6 332.1L343.7 331.8L343.8 331.7L343.9 331.5L344.0 331.5L344.1 331.4L344.2 331.5L344.3 331.6L344.4 331.7L344.6 331.8L344.7 331.9L344.8 332.0L344.9 332.1L345.0 332.2L345.1 332.2L345.2 332.2L345.3 332.1L345.4 332.0L345.5 331.8L345.6 331.6L345.8 331.3L345.9 331.0L346.0 330.7L346.1 330.4L346.2 330.2L346.3 329.9L346.4 329.7L346.5 329.6L346.6 329.5L346.7 329.5L346.8 329.5L347.0 329.6L347.1 329.7L347.2 329.8L347.3 330.0L347.4 330.1L347.5 330.3L347.6 330.4L347.7 330.5L347.8 330.6L347.9 330.6L348.0 330.5L348.2 330.4L348.3 330.3L348.4 330.1L348.5 329.9L348.6 329.6L348.7 329.4L348.8 329.1L348.9 328.9L349.0 328.7L349.1 328.5L349.3 328.4L349.4 328.4L349.5 328.4L349.6 328.4L349.7 328.5L349.8 328.7L349.9 328.9L350.0 329.1L350.1 329.3L350.2 329.5L350.3 329.6L350.5 329.8L350.6 329.9L350.7 329.9L350.8 329.9L350.9 329.8L351.0 329.7L351.1 329.6L351.2 329.4L351.3 329.2L351.4 329.0L351.5 328.8L351.7 328.6L351.8 328.4L351.9 328.3L352.0 328.2L352.1 328.2L352.2 328.2L352.3 328.3L352.4 328.5L352.5 328.7L352.6 328.9L352.7 329.1L352.9 329.3L353.0 329.6L353.1 329.8L353.2 330.0L353.3 330.1L353.4 330.2L353.5 330.2L353.6 330.2L353.7 330.1L353.8 330.0L354.0 329.8L354.1 329.7L354.2 329.5L354.3 329.3L354.4 329.2L354.5 329.0L354.6 329.0L354.7 328.9L354.8 328.9L354.9 329.0L355.0 329.2L355.2 329.3L355.3 329.6L355.4 329.8L355.5 330.1L355.6 330.4L355.7 330.6L355.8 330.9L355.9 331.1L356.0 331.2L356.1 331.4L356.2 331.4L356.4 331.4L356.5 331.4L356.6 331.3L356.7 331.2L356.8 331.1L356.9 330.9L357.0 330.8L357.1 330.7L357.2 330.6L357.3 330.6L357.4 330.6L357.6 330.6L357.7 330.7L357.8 330.9L357.9 331.1L358.0 331.4L358.1 331.7L358.2 332.0L358.3 332.3L358.4 332.6L358.5 332.9L358.6 333.1L358.8 333.3L358.9 333.5L359.0 333.6L359.1 333.7L359.2 333.7L359.3 333.6L359.4 333.5L359.5 333.4L359.6 333.3L359.7 333.2L359.9 333.1L360.0 333.1L360.1 333.0L360.2 333.1L360.3 333.2L360.4 333.3L360.5 333.5L360.6 333.8L360.7 334.1L360.8 334.4L360.9 334.8L361.1 335.1L361.2 335.5L361.3 335.8L361.4 336.1L361.5 336.4L361.6 336.6L361.7 336.7L361.8 336.8L361.9 336.8L362.0 336.8L362.1 336.7L362.3 336.7L362.4 336.6L362.5 336.5L362.6 336.4L362.7 336.4L362.8 336.4L362.9 336.5L363.0 336.6L363.1 336.8L363.2 337.0L363.3 337.3L363.5 337.7L363.6 338.1L363.7 338.5L363.8 338.9L363.9 339.3L364.0 339.6L364.1 340.0L364.2 340.3L364.3 340.5L364.4 340.7L364.6 340.8L364.7 340.9L364.8 340.9L364.9 340.9L365.0 340.8L365.1 340.7L365.2 340.7L365.3 340.6L365.4 340.6L365.5 340.7L365.6 340.8L365.8 340.9L365.9 341.1L366.0 341.4L366.1 341.8L366.2 342.1L366.3 342.6L366.4 343.0L366.5 343.5L366.6 343.9L366.7 344.4L366.8 344.7L367.0 345.1L367.1 345.4L367.2 345.6L367.3 345.7L367.4 345.8L367.5 345.8L367.6 345.8L367.7 345.8L367.8 345.7L367.9 345.7L368.0 345.6L368.2 345.6L368.3 345.7L368.4 345.8L368.5 346.0L368.6 346.3L368.7 346.6L368.8 347.0L368.9 347.4L369.0 347.9L369.1 348.4L369.3 348.9L369.4 349.4L369.5 349.9L369.6 350.3L369.7 350.7L369.8 351.0L369.9 351.3L370.0 351.4L370.1 351.6L370.2 351.6L370.3 351.6L370.5 351.6L370.6 351.5L370.7 351.5L370.8 351.4L370.9 351.4L371.0 351.5L371.1 351.6L371.2 351.8L371.3 352.1L371.4 352.5L371.5 352.9L371.7 353.4L371.8 354.0L371.9 354.5L372.0 355.1L372.1 355.7L372.2 356.2L372.3 356.7L372.4 357.2L372.5 357.5L372.6 357.8L372.7 358.0L372.9 358.1L373.0 358.2L373.1 358.1L373.2 358.1L373.3 358.0L373.4 358.0L373.5 357.9L373.6 358.0L373.7 358.0L373.8 358.2L373.9 358.4L374.1 358.7L374.2 359.1L374.3 359.6L374.4 360.2L374.5 360.8L374.6 361.4L374.7 362.1L374.8 362.7L374.9 363.3L375.0 363.9L375.2 364.4L375.3 364.8L375.4 365.1L375.5 365.3L375.6 365.4L375.7 365.4L375.8 365.4L375.9 365.4L376.0 365.3L376.1 365.2L376.2 365.1L376.4 365.1L376.5 365.2L376.6 365.4L376.7 365.6L376.8 366.0L376.9 366.4L377.0 367.0L377.1 367.6L377.2 368.3L377.3 369.0L377.4 369.7L377.6 370.4L377.7 371.1L377.8 371.7L377.9 372.3L378.0 372.7L378.1 373.0L378.2 373.2L378.3 373.4L378.4 373.4L378.5 373.4L378.6 373.3L378.8 373.1L378.9 373.0L379.0 373.0L379.1 372.9L379.2 373.0L379.3 373.1L379.4 373.4L379.5 373.8L379.6 374.3L379.7 374.9L379.9 375.6L380.0 376.3L380.1 377.1L380.2 378.0L380.3 378.8L380.4 379.5L380.5 380.2L380.6 380.8L380.7 381.3L380.8 381.6L380.9 381.8L381.1 382.0L381.2 382.0L381.3 381.9L381.4 381.8L381.5 381.6L381.6 381.4L381.7 381.3L381.8 381.3L381.9 381.3L382.0 381.4L382.1 381.7L382.3 382.1L382.4 382.7L382.5 383.3L382.6 384.1L382.7 384.9L382.8 385.8L382.9 386.7L383.0 387.6L383.1 388.5L383.2 389.2L383.3 389.9L383.5 390.4L383.6 390.8L383.7 391.0L383.8 391.1L383.9 391.1L384.0 391.0L384.1 390.8L384.2 390.5L384.3 390.3L384.4 390.1L384.6 390.0L384.7 390.1L384.8 390.2L384.9 390.5L385.0 390.9L385.1 391.5L385.2 392.2L385.3 393.1L385.4 394.0L385.5 395.0L385.6 396.0L385.8 397.0L385.9 397.9L386.0 398.7L386.1 399.4L386.2 400.0L386.3 400.4L386.4 400.6L386.5 400.7L386.6 400.6L386.7 400.5L386.8 400.2L387.0 399.9L387.1 399.6L387.2 399.4L387.3 399.2L387.4 399.2L387.5 399.3L387.6 399.6L387.7 400.1L387.8 400.7L387.9 401.5L388.0 402.4L388.2 403.4L388.3 404.5L388.4 405.7L388.5 406.7L388.6 407.8L388.7 408.7L388.8 409.4L388.9 410.0L389.0 410.4L389.1 410.7L389.2 410.7L389.4 410.6L389.5 410.3L389.6 410.0L389.7 409.6L389.8 409.3L389.9 408.9L390.0 408.7L390.1 408.6L390.2 408.7L390.3 409.0L390.5 409.5L390.6 410.2L390.7 411.0L390.8 412.1L390.9 413.2L391.0 414.4L391.1 415.6L391.2 416.8L391.3 417.9L391.4 418.9L391.5 419.7L391.7 420.4L391.8 420.8L391.9 421.0L392.0 421.0L392.1 420.8L392.2 420.5L392.3 420.1L392.4 419.6L392.5 419.1L392.6 418.7L392.7 418.4L392.9 418.3L393.0 418.4L393.1 418.6L393.2 419.1L393.3 419.9L393.4 420.8L393.5 421.9L393.6 423.1L393.7 424.4L393.8 425.8L393.9 427.1L394.1 428.3L394.2 429.4L394.3 430.3L394.4 430.9L394.5 431.3L394.6 431.5L394.7 431.5L394.8 431.2L394.9 430.8L395.0 430.3L395.2 429.7L395.3 429.2L395.4 428.7L395.5 428.3L395.6 428.1L395.7 428.1L395.8 428.4L395.9 428.9L396.0 429.7L396.1 430.7L396.2 431.9L396.4 433.2L396.5 434.6L396.6 436.1L396.7 437.5L396.8 438.8L396.9 440.0L397.0 440.9L397.1 441.6L397.2 442.0L397.3 442.2L397.4 442.1L397.6 441.8L397.7 441.3L397.8 440.6L397.9 439.9L398.0 439.3L398.1 438.6L398.2 438.2L398.3 437.9L398.4 437.9L398.5 438.1L398.6 438.7L398.8 439.5L398.9 440.6L399.0 441.8L399.1 443.3L399.2 444.8L399.3 446.4L399.4 447.9L399.5 449.4L399.6 450.6L399.7 451.6L399.9 452.3L400.0 452.7L400.1 452.9L400.2 452.7L400.3 452.3L400.4 451.7L400.5 450.9L400.6 450.1L400.7 449.3L400.8 448.6L400.9 448.0L401.1 447.7L401.2 447.6L401.3 447.9L401.4 448.4L401.5 449.2L401.6 450.4L401.7 451.8L401.8 453.3L401.9 455.0L402.0 456.7L402.1 458.3L402.3 459.8L402.4 461.1L402.5 462.2L402.6 463.0L402.7 463.4L402.8 463.5L402.9 463.2L403.0 462.7L403.1 462.0L403.2 461.1L403.3 460.2L403.5 459.3L403.6 458.4L403.7 457.8L403.8 457.3L403.9 457.2L404.0 457.4L404.1 458.0L404.2 458.9L404.3 460.1L404.4 461.5L404.6 463.2L404.7 465.0L404.8 466.8L404.9 468.5L405.0 470.1L405.1 471.5L405.2 472.6L405.3 473.4L405.4 473.8L405.5 473.9L405.6 473.6L405.8 473.0L405.9 472.1L406.0 471.1L406.1 470.1L406.2 469.0L406.3 468.0L406.4 467.2L406.5 466.7L406.6 466.6L406.7 466.7L406.8 467.3L407.0 468.2L407.1 469.5L407.2 471.0L407.3 472.8L407.4 474.7L407.5 476.6L407.6 478.5L407.7 480.2L407.8 481.6L407.9 482.8L408.0 483.6L408.2 484.0L408.3 484.0L408.4 483.6L408.5 482.9L408.6 482.0L408.7 480.8L408.8 479.6L408.9 478.4L409.0 477.3L409.1 476.4L409.2 475.8L409.4 475.6L409.5 475.7L409.6 476.3L409.7 477.2L409.8 478.6L409.9 480.2L410.0 482.1L410.1 484.1L410.2 486.1L410.3 488.1L410.5 489.9L410.6 491.4L410.7 492.6L410.8 493.4L410.9 493.8L411.0 493.7L411.1 493.3L411.2 492.5L411.3 491.4L411.4 490.1L411.5 488.8L411.7 487.4L411.8 486.2L411.9 485.2L412.0 484.5L412.1 484.2L412.2 484.3L412.3 484.9L412.4 485.9L412.5 487.2L412.6 488.9L412.7 490.9L412.9 493.0L413.0 495.1L413.1 497.2L413.2 499.1L413.3 500.7L413.4 501.9L413.5 502.7L413.6 503.1L413.7 503.0L413.8 502.5L413.9 501.6L414.1 500.3L414.2 498.9L414.3 497.4L414.4 495.9L414.5 494.6L414.6 493.5L414.7 492.7L414.8 492.3L414.9 492.4L415.0 493.0L415.2 494.0L415.3 495.4L415.4 497.2L415.5 499.2L415.6 501.4L415.7 503.6L415.8 505.8L415.9 507.7L416.0 509.4L416.1 510.6L416.2 511.5L416.4 511.8L416.5 511.6L416.6 511.0L416.7 510.0L416.8 508.7L416.9 507.2L417.0 505.5L417.1 503.9L417.2 502.4L417.3 501.2L417.4 500.3L417.6 499.9L417.7 499.9L417.8 500.5L417.9 501.5L418.0 502.9L418.1 504.8L418.2 506.9L418.3 509.2L418.4 511.5L418.5 513.7L418.6 515.7L418.8 517.4L418.9 518.7L419.0 519.5L419.1 519.9L419.2 519.6L419.3 519.0L419.4 517.9L419.5 516.4L419.6 514.7L419.7 513.0L419.9 511.2L420.0 509.6L420.1 508.3L420.2 507.3L420.3 506.8L420.4 506.8L420.5 507.3L420.6 508.3L420.7 509.8L420.8 511.7L420.9 513.9L421.1 516.3L421.2 518.7L421.3 520.9L421.4 523.0L421.5 524.8L421.6 526.1L421.7 526.9L421.8 527.2L421.9 526.9L422.0 526.1L422.1 524.9L422.3 523.4L422.4 521.6L422.5 519.7L422.6 517.8L422.7 516.0L422.8 514.6L422.9 513.6L423.0 513.0L423.1 512.9L423.2 513.5L423.3 514.5L423.5 516.0L423.6 517.9L423.7 520.2L423.8 522.6L423.9 525.0L424.0 527.4L424.1 529.5L424.2 531.3L424.3 532.6L424.4 533.4L424.5 533.6L424.7 533.3L424.8 532.5L424.9 531.2L425.0 529.5L425.1 527.6L425.2 525.6L425.3 523.5L425.4 521.7L425.5 520.2L425.6 519.0L425.8 518.4L425.9 518.3L426.0 518.8L426.1 519.8L426.2 521.4L426.3 523.4L426.4 525.6L426.5 528.1L426.6 530.6L426.7 533.0L426.8 535.1L427.0 536.9L427.1 538.2L427.2 539.0L427.3 539.2L427.4 538.8L427.5 537.9L427.6 536.5L427.7 534.8L427.8 532.7L427.9 530.6L428.0 528.5L428.2 526.5L428.3 524.9L428.4 523.7L428.5 523.0L428.6 522.9L428.7 523.3L428.8 524.4L428.9 525.9L429.0 527.9L429.1 530.2L429.2 532.7L429.4 535.2L429.5 537.6L429.6 539.8L429.7 541.6L429.8 542.9L429.9 543.7L430.0 543.8L430.1 543.4L430.2 542.4L430.3 540.9L430.5 539.1L430.6 537.0L430.7 534.7L430.8 532.5L430.9 530.5L431.0 528.8L431.1 527.5L431.2 526.7L431.3 526.6L431.4 527.0L431.5 528.0L431.7 529.6L431.8 531.5L431.9 533.9L432.0 536.4L432.1 538.9L432.2 541.3L432.3 543.5L432.4 545.3L432.5 546.6L432.6 547.3L432.7 547.5L432.9 547.0L433.0 545.9L433.1 544.4L433.2 542.4L433.3 540.2L433.4 537.9L433.5 535.6L433.6 533.5L433.7 531.7L433.8 530.3L433.9 529.5L434.1 529.3L434.2 529.7L434.3 530.7L434.4 532.3L434.5 534.2L434.6 536.6L434.7 539.1L434.8 541.6L434.9 544.0L435.0 546.2L435.2 548.0L435.3 549.3L435.4 550.0L435.5 550.0L435.6 549.5L435.7 548.4L435.8 546.8L435.9 544.8L436.0 542.5L436.1 540.1L436.2 537.7L436.4 535.5L436.5 533.7L436.6 532.3L436.7 531.4L436.8 531.2L436.9 531.5L437.0 532.5L437.1 534.0L437.2 536.0L437.3 538.3L437.4 540.8L437.6 543.3L437.7 545.7L437.8 547.8L437.9 549.6L438.0 550.8L438.1 551.5L438.2 551.5L438.3 551.0L438.4 549.8L438.5 548.1L438.6 546.0L438.8 543.7L438.9 541.2L439.0 538.8L439.1 536.6L439.2 534.7L439.3 533.2L439.4 532.3L439.5 532.0L439.6 532.3L439.7 533.3L439.8 534.8L440.0 536.7L440.1 539.0L440.2 541.4L440.3 543.9L440.4 546.3L440.5 548.4L440.6 550.1L440.7 551.3L440.8 552.0L440.9 552.0L441.1 551.3L441.2 550.1L441.3 548.4L441.4 546.3L441.5 543.9L441.6 541.4L441.7 538.9L441.8 536.6L441.9 534.7L442.0 533.2L442.1 532.3L442.3 531.9L442.4 532.2L442.5 533.1L442.6 534.5L442.7 536.4L442.8 538.7L442.9 541.1L443.0 543.5L443.1 545.9L443.2 547.9L443.3 549.6L443.5 550.7L443.6 551.3L443.7 551.3L443.8 550.6L443.9 549.4L444.0 547.6L444.1 545.4L444.2 543.0L444.3 540.5L444.4 538.0L444.5 535.7L444.7 533.7L444.8 532.2L444.9 531.2L445.0 530.9L445.1 531.1L445.2 532.0L445.3 533.3L445.4 535.2L445.5 537.4L445.6 539.7L445.8 542.1L445.9 544.4L446.0 546.4L446.1 548.0L446.2 549.1L446.3 549.6L446.4 549.5L446.5 548.8L446.6 547.5L446.7 545.7L446.8 543.6L447.0 541.1L447.1 538.6L447.2 536.1L447.3 533.8L447.4 531.8L447.5 530.3L447.6 529.3L447.7 528.8L447.8 529.1L447.9 529.8L448.0 531.2L448.2 533.0L448.3 535.0L448.4 537.3L448.5 539.6L448.6 541.8L448.7 543.8L448.8 545.3L448.9 546.3L449.0 546.8L449.1 546.7L449.2 545.9L449.4 544.6L449.5 542.9L449.6 540.7L449.7 538.2L449.8 535.7L449.9 533.2L450.0 530.9L450.1 528.9L450.2 527.3L450.3 526.3L450.4 525.9L450.6 526.1L450.7 526.8L450.8 528.1L450.9 529.8L451.0 531.8L451.1 534.0L451.2 536.2L451.3 538.3L451.4 540.1L451.5 541.6L451.7 542.6L451.8 543.0L451.9 542.8L452.0 542.1L452.1 540.7L452.2 538.9L452.3 536.8L452.4 534.4L452.5 531.8L452.6 529.4L452.7 527.1L452.9 525.1L453.0 523.5L453.1 522.5L453.2 522.0L453.3 522.2L453.4 522.8L453.5 524.0L453.6 525.6L453.7 527.6L453.8 529.7L453.9 531.8L454.1 533.8L454.2 535.5L454.3 536.9L454.4 537.8L454.5 538.2L454.6 538.0L454.7 537.2L454.8 535.9L454.9 534.1L455.0 531.9L455.1 529.5L455.3 527.1L455.4 524.6L455.5 522.3L455.6 520.4L455.7 518.8L455.8 517.8L455.9 517.3L456.0 517.4L456.1 518.0L456.2 519.1L456.4 520.6L456.5 522.5L456.6 524.4L456.7 526.4L456.8 528.3L456.9 530.0L457.0 531.3L457.1 532.1L457.2 532.4L457.3 532.2L457.4 531.4L457.6 530.0L457.7 528.3L457.8 526.2L457.9 523.8L458.0 521.4L458.1 519.0L458.2 516.8L458.3 514.8L458.4 513.3L458.5 512.3L458.6 511.8L458.8 511.8L458.9 512.4L459.0 513.4L459.1 514.8L459.2 516.5L459.3 518.4L459.4 520.3L459.5 522.0L459.6 523.6L459.7 524.8L459.8 525.5L460.0 525.8L460.1 525.5L460.2 524.7L460.3 523.4L460.4 521.6L460.5 519.6L460.6 517.3L460.7 514.9L460.8 512.6L460.9 510.4L461.1 508.5L461.2 507.0L461.3 506.0L461.4 505.5L461.5 505.5L461.6 506.0L461.7 506.9L461.8 508.2L461.9 509.8L462.0 511.5L462.1 513.3L462.3 514.9L462.4 516.3L462.5 517.4L462.6 518.1L462.7 518.3L462.8 518.0L462.9 517.2L463.0 515.9L463.1 514.2L463.2 512.2L463.3 510.0L463.5 507.7L463.6 505.4L463.7 503.3L463.8 501.5L463.9 500.0L464.0 499.0L464.1 498.5L464.2 498.4L464.3 498.8L464.4 499.7L464.5 500.9L464.7 502.4L464.8 504.0L464.9 505.6L465.0 507.1L465.1 508.4L465.2 509.4L465.3 510.0L465.4 510.1L465.5 509.8L465.6 508.9L465.8 507.7" stroke="#4a4a4a"/></g>
<g clip-path="url(#cc)" fill="none" stroke-width="1.3"><path d="M569.8 28.4L570.3 27.8L570.8 28.4L571.4 29.2L571.9 29.0L572.5 28.5L573.0 29.1L573.6 30.3L574.1 30.5L574.7 30.1L575.2 30.7L575.8 32.2L576.3 32.9L576.9 32.7L577.4 33.2L578.0 34.9L578.5 36.0L579.0 36.1L579.6 36.7L580.1 38.4L580.7 40.0L581.2 40.5L581.8 41.0L582.3 42.7L582.9 44.7L583.4 45.6L584.0 46.1L584.5 47.9L585.1 50.1L585.6 51.4L586.2 52.1L586.7 53.8L587.2 56.3L587.8 58.0L588.3 58.9L588.9 60.4L589.4 63.1L590.0 65.2L590.5 66.3L591.1 67.8L591.6 70.5L592.2 73.0L592.7 74.4L593.3 75.8L593.8 78.5L594.4 81.3L594.9 83.1L595.4 84.5L596.0 87.0L596.5 90.1L597.1 92.2L597.6 93.7L598.2 96.1L598.7 99.3L599.3 101.8L599.8 103.3L600.4 105.6L600.9 108.8L601.5 111.6L602.0 113.4L602.6 115.4L603.1 118.7L603.7 121.8L604.2 123.7L604.7 125.6L605.3 128.8L605.8 132.1L606.4 134.3L606.9 136.1L607.5 139.0L608.0 142.5L608.6 145.0L609.1 146.7L609.7 149.4L610.2 153.0L610.8 155.7L611.3 157.5L611.9 159.9L612.4 163.4L612.9 166.4L613.5 168.2L614.0 170.4L614.6 173.7L615.1 176.9L615.7 178.9L616.2 180.8L616.8 183.9L617.3 187.2L617.9 189.3L618.4 191.1L619.0 193.9L619.5 197.3L620.1 199.6L620.6 201.2L621.1 203.7L621.7 207.0L622.2 209.4L622.8 210.9L623.3 213.1L623.9 216.3L624.4 218.9L625.0 220.3L625.5 222.1L626.1 225.1L626.6 227.8L627.2 229.3L627.7 230.8L628.3 233.4L628.8 236.1L629.3 237.7L629.9 238.9L630.4 241.2L631.0 243.9L631.5 245.5L632.1 246.5L632.6 248.3L633.2 250.9L633.7 252.7L634.3 253.5L634.8 254.9L635.4 257.2L635.9 259.1L636.5 259.8L637.0 260.7L637.6 262.8L638.1 264.7L638.6 265.3L639.2 265.9L639.7 267.6L640.3 269.5L640.8 270.1L641.4 270.3L641.9 271.6L642.5 273.4L643.0 274.0L643.6 274.0L644.1 274.8L644.7 276.4L645.2 277.1L645.8 276.8L646.3 277.2L646.8 278.5L647.4 279.3L647.9 278.9L648.5 278.7L649.0 279.7L649.6 280.5L650.1 280.0L650.7 279.5L651.2 280.0L651.8 280.8L652.3 280.3L652.9 279.3L653.4 279.5L654.0 280.1L654.5 279.6L655.0 278.4L655.6 278.1L656.1 278.5L656.7 278.0L657.2 276.6L657.8 275.8L658.3 276.0L658.9 275.5L659.4 274.0L660.0 272.7L660.5 272.5L661.1 272.2L661.6 270.5L662.2 268.8L662.7 268.3L663.3 267.9L663.8 266.2L664.3 264.2L664.9 263.2L665.4 262.7L666.0 261.2L666.5 258.9L667.1 257.4L667.6 256.8L668.2 255.3L668.7 252.8L669.3 250.9L669.8 250.1L670.4 248.6L670.9 246.1L671.5 243.8L672.0 242.7L672.5 241.3L673.1 238.7L673.6 236.1L674.2 234.6L674.7 233.3L675.3 230.8L675.8 227.8L676.4 226.0L676.9 224.7L677.5 222.2L678.0 219.1L678.6 216.9L679.1 215.5L679.7 213.2L680.2 210.0L680.7 207.4L681.3 205.8L681.8 203.7L682.4 200.5L682.9 197.6L683.5 195.8L684.0 193.8L684.6 190.7L685.1 187.5L685.7 185.5L686.2 183.6L686.8 180.6L687.3 177.2L687.9 174.9L688.4 173.2L688.9 170.3L689.5 166.8L690.0 164.3L690.6 162.5L691.1 159.9L691.7 156.4L692.2 153.6L692.8 151.8L693.3 149.4L693.9 146.0L694.4 142.9L695.0 141.0L695.5 138.9L696.1 135.6L696.6 132.4L697.2 130.3L697.7 128.5L698.2 125.4L698.8 122.1L699.3 119.8L699.9 118.1L700.4 115.4L701.0 112.0L701.5 109.6L702.1 108.0L702.6 105.6L703.2 102.3L703.7 99.7L704.3 98.2L704.8 96.2L705.4 93.0L705.9 90.3L706.4 88.7L707.0 87.0L707.5 84.2L708.1 81.4L708.6 79.8L709.2 78.4L709.7 75.8L710.3 73.0L710.8 71.3L711.4 70.2L711.9 68.0L712.5 65.3L713.0 63.5L713.6 62.5L714.1 60.8L714.6 58.2L715.2 56.3L715.7 55.5L716.3 54.2L716.8 51.8L717.4 49.9L717.9 49.1L718.5 48.2L719.0 46.2L719.6 44.2L720.1 43.5L720.7 43.0L721.2 41.3L721.8 39.4L722.3 38.6L722.9 38.4L723.4 37.3L723.9 35.5L724.5 34.6L725.0 34.7L725.6 34.0L726.1 32.4L726.7 31.5L727.2 31.8L727.8 31.5L728.3 30.2L728.9 29.3L729.4 29.7L730.0 29.9L730.5 29.0L731.1 28.1L731.6 28.5L732.1 29.1L732.7 28.6L733.2 27.8L733.8 28.1L734.3 29.1L734.9 29.0L735.4 28.4L736.0 28.7L736.5 29.9L737.1 30.4L737.6 30.0L738.2 30.3L738.7 31.6L739.3 32.6L739.8 32.4L740.3 32.7L740.9 34.2L741.4 35.6L742.0 35.8L742.5 36.1L743.1 37.6L743.6 39.3L744.2 40.0L744.7 40.3L745.3 41.8L745.8 43.9L746.4 45.0L746.9 45.4L747.5 46.9L748.0 49.2L748.5 50.7L749.1 51.3L749.6 52.7L750.2 55.1L750.7 57.1L751.3 58.0L751.8 59.3L752.4 61.8L752.9 64.2L753.5 65.4L754.0 66.6L754.6 69.1L755.1 71.8L755.7 73.4L756.2 74.6L756.8 77.0L757.3 80.0L757.8 81.9L758.4 83.2L758.9 85.5L759.5 88.6L760.0 91.0L760.6 92.4L761.1 94.5L761.7 97.7L762.2 100.4L762.8 102.0L763.3 104.0L763.9 107.2L764.4 110.2L765.0 112.0L765.5 113.9L766.0 117.0L766.6 120.2L767.1 122.4L767.7 124.1L768.2 127.0L768.8 130.5L769.3 132.9L769.9 134.6L770.4 137.3L771.0 140.8L771.5 143.5L772.1 145.3L772.6 147.7L773.2 151.2L773.7 154.2L774.2 156.1L774.8 158.3L775.3 161.6L775.9 164.8L776.4 166.8L777.0 168.8L777.5 172.0L778.1 175.3L778.6 177.5L779.2 179.3L779.7 182.2L780.3 185.6L780.8 188.0L781.4 189.7L781.9 192.3L782.4 195.7L783.0 198.2L783.5 199.8L784.1 202.1L784.6 205.4L785.2 208.1L785.7 209.7L786.3 211.6L786.8 214.7L787.4 217.5L787.9 219.2L788.5 220.8L789.0 223.6L789.6 226.5L790.1 228.2L790.7 229.5L791.2 232.0L791.7 234.9L792.3 236.7L792.8 237.8L793.4 239.8L793.9 242.6L794.5 244.6L795.0 245.5L795.6 247.1L796.1 249.7L796.7 251.8L797.2 252.6L797.8 253.8L798.3 256.1L798.9 258.2L799.4 259.1L799.9 259.9L800.5 261.8L801.0 263.9L801.6 264.7L802.1 265.2L802.7 266.7L803.2 268.7L803.8 269.6L804.3 269.8L804.9 270.9L805.4 272.7L806.0 273.7L806.5 273.6L807.1 274.2L807.6 275.8L808.1 276.8L808.7 276.7L809.2 276.8L809.8 278.0L810.3 279.0L810.9 278.8L811.4 278.5L812.0 279.4L812.5 280.3L813.1 280.1L813.6 279.4L814.2 279.8L814.7 280.7L815.3 280.5L815.8 279.5L816.4 279.4L816.9 280.1L817.4 279.9L818.0 278.7L818.5 278.2L819.1 278.6L819.6 278.4L820.2 277.1L820.7 276.1L821.3 276.2L821.8 276.0L822.4 274.6L822.9 273.2L823.5 272.9L824.0 272.7L824.6 271.3L825.1 269.5L825.6 268.8L826.2 268.5L826.7 267.1L827.3 265.1L827.8 263.9L828.4 263.4L828.9 262.1L829.5 259.9L830.0 258.2L830.6 257.6L831.1 256.3L831.7 253.9L832.2 251.9L832.8 250.9L833.3 249.7L833.8 247.3L834.4 244.9L834.9 243.6L835.5 242.4L836.0 240.1L836.6 237.3L837.1 235.7L837.7 234.4L838.2 232.2L838.8 229.2L839.3 227.2L839.9 225.9L840.4 223.7L841.0 220.6L841.5 218.2L842.0 216.7L842.6 214.7L843.1 211.6L843.7 208.8L844.2 207.1L844.8 205.2L845.3 202.2L845.9 199.1L846.4 197.1L847.0 195.3L847.5 192.4L848.1 189.1L848.6 186.8L849.2 185.1L849.7 182.3L850.3 178.9L850.8 176.3L851.3 174.6L851.9 172.1L852.4 168.6L853.0 165.7L853.5 163.9L854.1 161.6L854.6 158.2L855.2 155.1L855.7 153.2L856.3 151.1L856.8 147.8L857.4 144.5L857.9 142.4L858.5 140.5L859.0 137.4L859.5 134.0L860.1 131.7L860.6 129.9L861.2 127.2L861.7 123.7L862.3 121.2L862.8 119.5L863.4 117.1L863.9 113.7L864.5 111.0L865.0 109.3L865.6 107.2L866.1 104.0L866.7 101.1L867.2 99.4L867.7 97.6L868.3 94.6L868.8 91.7L869.4 89.9L869.9 88.4L870.5 85.7L871.0 82.7L871.6 80.9L872.1 79.6L872.7 77.3L873.2 74.3L873.8 72.3L874.3 71.2L874.9 69.3L875.4 66.5L876.0 64.4L876.5 63.4L877.0 61.9L877.6 59.4L878.1 57.2L878.7 56.3L879.2 55.2L879.8 52.9L880.3 50.8L880.9 49.8L881.4 49.1L882.0 47.2L882.5 45.1L883.1 44.1L883.6 43.6L884.2 42.2L884.7 40.2L885.2 39.1L885.8 38.9L886.3 38.0L886.9 36.2L887.4 35.1L888.0 35.0L888.5 34.5L889.1 33.0L889.6 31.9L890.2 31.9L890.7 31.9L891.3 30.7L891.8 29.6L892.4 29.7L892.9 30.1L893.4 29.3L894.0 28.3L894.5 28.4L895.1 29.1L895.6 28.8L896.2 27.9L896.7 27.9L897.3 28.9L897.8 29.1L898.4 28.4L898.9 28.5L899.5 29.6L900.0 30.2L900.6 29.9L901.1 29.9L901.6 31.1L902.2 32.2L902.7 32.2L903.3 32.3L903.8 33.5L904.4 35.0L904.9 35.4L905.5 35.6L906.0 36.8L906.6 38.6L907.1 39.5L907.7 39.7L908.2 40.9L908.8 43.0L909.3 44.3L909.9 44.8L910.4 45.9L910.9 48.1L911.5 49.9L912.0 50.6L912.6 51.7L913.1 54.0L913.7 56.1L914.2 57.2L914.8 58.2L915.3 60.5L915.9 63.1L916.4 64.4L917.0 65.5L917.5 67.8L918.1 70.5L918.6 72.3L919.1 73.5L919.7 75.6L920.2 78.6L920.8 80.8L921.3 82.1L921.9 84.1L922.4 87.1L923.0 89.7L923.5 91.2L924.1 93.1L924.6 96.1L925.2 99.0L925.7 100.8L926.3 102.5L926.8 105.5L927.3 108.7L927.9 110.7L928.4 112.4L929.0 115.3L929.5 118.6L930.1 121.0L930.6 122.7L931.2 125.3L931.7 128.8L932.3 131.4L932.8 133.2L933.4 135.6L933.9 139.1L934.5 142.0L935.0 143.9L935.5 146.1L936.1 149.5L936.6 152.6L937.2 154.7L937.7 156.7L938.3 159.9L938.8 163.2L939.4 165.4L939.9 167.3L940.5 170.2L941.0 173.7L941.6 176.1L942.1 177.8L942.7 180.5L943.2 184.0L943.8 186.6L944.3 188.3L944.8 190.6L945.4 194.0L945.9 196.8L946.5 198.5L947.0 200.5L947.6 203.7L948.1 206.7L948.7 208.5L949.2 210.2L949.8 213.1L950.3 216.1L950.9 218.0L951.4 219.5L952.0 222.0L952.5 225.1" stroke="#444444"/><path d="M569.8 284.5L570.3 285.1L570.8 284.5L571.4 283.6L571.9 283.9L572.5 284.4L573.0 283.8L573.6 282.6L574.1 282.4L574.7 282.7L575.2 282.2L575.8 280.7L576.3 280.0L576.9 280.2L577.4 279.6L578.0 278.0L578.5 276.8L579.0 276.7L579.6 276.2L580.1 274.5L580.7 272.9L581.2 272.4L581.8 271.9L582.3 270.1L582.9 268.1L583.4 267.3L584.0 266.7L584.5 265.0L585.1 262.7L585.6 261.4L586.2 260.7L586.7 259.1L587.2 256.6L587.8 254.8L588.3 254.0L588.9 252.4L589.4 249.8L590.0 247.6L590.5 246.5L591.1 245.0L591.6 242.3L592.2 239.8L592.7 238.4L593.3 237.0L593.8 234.3L594.4 231.5L594.9 229.7L595.4 228.3L596.0 225.8L596.5 222.7L597.1 220.6L597.6 219.1L598.2 216.7L598.7 213.5L599.3 211.0L599.8 209.5L600.4 207.2L600.9 203.9L601.5 201.1L602.0 199.4L602.6 197.3L603.1 194.1L603.7 191.0L604.2 189.1L604.7 187.1L605.3 184.0L605.8 180.7L606.4 178.5L606.9 176.7L607.5 173.7L608.0 170.2L608.6 167.8L609.1 166.0L609.7 163.3L610.2 159.8L610.8 157.1L611.3 155.3L611.9 152.8L612.4 149.3L612.9 146.4L613.5 144.5L614.0 142.3L614.6 139.0L615.1 135.8L615.7 133.8L616.2 131.9L616.8 128.8L617.3 125.5L617.9 123.4L618.4 121.6L619.0 118.8L619.5 115.4L620.1 113.1L620.6 111.5L621.1 109.0L621.7 105.7L622.2 103.3L622.8 101.7L623.3 99.6L623.9 96.4L624.4 93.8L625.0 92.3L625.5 90.5L626.1 87.6L626.6 84.9L627.2 83.4L627.7 81.9L628.3 79.3L628.8 76.5L629.3 74.9L629.9 73.7L630.4 71.5L631.0 68.8L631.5 67.1L632.1 66.2L632.6 64.3L633.2 61.7L633.7 60.0L634.3 59.2L634.8 57.8L635.4 55.4L635.9 53.6L636.5 52.9L637.0 51.9L637.6 49.8L638.1 47.9L638.6 47.3L639.2 46.7L639.7 45.0L640.3 43.2L640.8 42.5L641.4 42.3L641.9 41.0L642.5 39.2L643.0 38.6L643.6 38.6L644.1 37.8L644.7 36.2L645.2 35.5L645.8 35.8L646.3 35.4L646.8 34.1L647.4 33.3L647.9 33.8L648.5 33.9L649.0 32.9L649.6 32.1L650.1 32.6L650.7 33.1L651.2 32.6L651.8 31.9L652.3 32.4L652.9 33.3L653.4 33.1L654.0 32.5L654.5 33.0L655.0 34.2L655.6 34.5L656.1 34.1L656.7 34.6L657.2 36.0L657.8 36.8L658.3 36.7L658.9 37.1L659.4 38.6L660.0 39.9L660.5 40.1L661.1 40.5L661.6 42.1L662.2 43.8L662.7 44.3L663.3 44.7L663.8 46.4L664.3 48.4L664.9 49.4L665.4 49.9L666.0 51.5L666.5 53.8L667.1 55.2L667.6 55.8L668.2 57.4L668.7 59.8L669.3 61.7L669.8 62.6L670.4 64.0L670.9 66.6L671.5 68.8L672.0 70.0L672.5 71.3L673.1 73.9L673.6 76.6L674.2 78.0L674.7 79.4L675.3 81.9L675.8 84.8L676.4 86.7L676.9 88.0L677.5 90.4L678.0 93.5L678.6 95.8L679.1 97.2L679.7 99.5L680.2 102.7L680.7 105.3L681.3 106.8L681.8 109.0L682.4 112.2L682.9 115.1L683.5 116.9L684.0 118.8L684.6 122.0L685.1 125.2L685.7 127.2L686.2 129.1L686.8 132.1L687.3 135.5L687.9 137.8L688.4 139.6L688.9 142.4L689.5 145.9L690.0 148.5L690.6 150.2L691.1 152.8L691.7 156.3L692.2 159.2L692.8 161.0L693.3 163.3L693.9 166.8L694.4 169.8L695.0 171.8L695.5 173.8L696.1 177.1L696.6 180.4L697.2 182.4L697.7 184.3L698.2 187.3L698.8 190.7L699.3 192.9L699.9 194.6L700.4 197.4L701.0 200.7L701.5 203.2L702.1 204.8L702.6 207.2L703.2 210.4L703.7 213.0L704.3 214.6L704.8 216.6L705.4 219.8L705.9 222.5L706.4 224.1L707.0 225.8L707.5 228.6L708.1 231.4L708.6 233.1L709.2 234.5L709.7 237.0L710.3 239.8L710.8 241.5L711.4 242.7L711.9 244.8L712.5 247.6L713.0 249.4L713.6 250.3L714.1 252.0L714.6 254.7L715.2 256.5L715.7 257.4L716.3 258.7L716.8 261.0L717.4 263.0L717.9 263.7L718.5 264.6L719.0 266.7L719.6 268.6L720.1 269.4L720.7 269.9L721.2 271.5L721.8 273.4L722.3 274.2L722.9 274.4L723.4 275.6L723.9 277.4L724.5 278.2L725.0 278.2L725.6 278.9L726.1 280.5L726.7 281.3L727.2 281.1L727.8 281.3L728.3 282.6L728.9 283.5L729.4 283.2L730.0 283.0L730.5 283.9L731.1 284.8L731.6 284.4L732.1 283.8L732.7 284.3L733.2 285.1L733.8 284.7L734.3 283.8L734.9 283.8L735.4 284.5L736.0 284.1L736.5 282.9L737.1 282.5L737.6 282.9L738.2 282.6L738.7 281.2L739.3 280.3L739.8 280.4L740.3 280.1L740.9 278.7L741.4 277.3L742.0 277.1L742.5 276.8L743.1 275.3L743.6 273.5L744.2 272.9L744.7 272.5L745.3 271.0L745.8 269.0L746.4 267.9L746.9 267.4L747.5 266.0L748.0 263.7L748.5 262.2L749.1 261.5L749.6 260.1L750.2 257.7L750.7 255.7L751.3 254.8L751.8 253.5L752.4 251.0L752.9 248.7L753.5 247.4L754.0 246.2L754.6 243.7L755.1 241.0L755.7 239.4L756.2 238.2L756.8 235.8L757.3 232.8L757.8 230.9L758.4 229.6L758.9 227.3L759.5 224.2L760.0 221.8L760.6 220.4L761.1 218.3L761.7 215.1L762.2 212.4L762.8 210.8L763.3 208.8L763.9 205.6L764.4 202.6L765.0 200.7L765.5 198.9L766.0 195.8L766.6 192.5L767.1 190.4L767.7 188.6L768.2 185.7L768.8 182.3L769.3 179.9L769.9 178.1L770.4 175.4L771.0 171.9L771.5 169.2L772.1 167.5L772.6 165.0L773.2 161.5L773.7 158.5L774.2 156.7L774.8 154.5L775.3 151.1L775.9 147.9L776.4 145.9L777.0 143.9L777.5 140.7L778.1 137.4L778.6 135.2L779.2 133.4L779.7 130.5L780.3 127.1L780.8 124.7L781.4 123.0L781.9 120.4L782.4 117.0L783.0 114.5L783.5 112.9L784.1 110.6L784.6 107.3L785.2 104.6L785.7 103.0L786.3 101.1L786.8 98.0L787.4 95.1L787.9 93.5L788.5 91.9L789.0 89.1L789.6 86.2L790.1 84.5L790.7 83.1L791.2 80.7L791.7 77.8L792.3 76.0L792.8 74.8L793.4 72.8L793.9 70.0L794.5 68.1L795.0 67.1L795.6 65.5L796.1 62.9L796.7 60.9L797.2 60.0L797.8 58.8L798.3 56.5L798.9 54.4L799.4 53.6L799.9 52.8L800.5 50.8L801.0 48.7L801.6 47.9L802.1 47.4L802.7 45.9L803.2 43.9L803.8 43.0L804.3 42.8L804.9 41.7L805.4 39.9L806.0 38.9L806.5 39.0L807.1 38.4L807.6 36.8L808.1 35.8L808.7 36.0L809.2 35.8L809.8 34.6L810.3 33.6L810.9 33.8L811.4 34.1L812.0 33.2L812.5 32.3L813.1 32.5L813.6 33.2L814.2 32.8L814.7 31.9L815.3 32.1L815.8 33.1L816.4 33.2L816.9 32.5L817.4 32.7L818.0 33.9L818.5 34.4L819.1 34.0L819.6 34.2L820.2 35.5L820.7 36.5L821.3 36.4L821.8 36.6L822.4 38.0L822.9 39.4L823.5 39.7L824.0 39.9L824.6 41.3L825.1 43.1L825.6 43.8L826.2 44.1L826.7 45.5L827.3 47.6L827.8 48.8L828.4 49.2L828.9 50.5L829.5 52.8L830.0 54.4L830.6 55.1L831.1 56.3L831.7 58.7L832.2 60.8L832.8 61.7L833.3 62.9L833.8 65.3L834.4 67.7L834.9 69.0L835.5 70.2L836.0 72.6L836.6 75.3L837.1 77.0L837.7 78.2L838.2 80.5L838.8 83.4L839.3 85.5L839.9 86.8L840.4 88.9L841.0 92.0L841.5 94.5L842.0 96.0L842.6 98.0L843.1 101.1L843.7 103.9L844.2 105.6L844.8 107.5L845.3 110.5L845.9 113.6L846.4 115.6L847.0 117.4L847.5 120.3L848.1 123.6L848.6 125.9L849.2 127.6L849.7 130.4L850.3 133.8L850.8 136.4L851.3 138.1L851.9 140.7L852.4 144.2L853.0 147.0L853.5 148.8L854.1 151.1L854.6 154.6L855.2 157.6L855.7 159.6L856.3 161.7L856.8 165.0L857.4 168.3L857.9 170.4L858.5 172.3L859.0 175.3L859.5 178.8L860.1 181.0L860.6 182.8L861.2 185.6L861.7 189.1L862.3 191.6L862.8 193.2L863.4 195.7L863.9 199.1L864.5 201.8L865.0 203.4L865.6 205.6L866.1 208.8L866.7 211.7L867.2 213.4L867.7 215.2L868.3 218.2L868.8 221.1L869.4 222.9L869.9 224.4L870.5 227.1L871.0 230.1L871.6 231.9L872.1 233.3L872.7 235.6L873.2 238.5L873.8 240.5L874.3 241.6L874.9 243.5L875.4 246.3L876.0 248.4L876.5 249.4L877.0 250.9L877.6 253.4L878.1 255.6L878.7 256.6L879.2 257.7L879.8 259.9L880.3 262.1L880.9 263.1L881.4 263.8L882.0 265.6L882.5 267.8L883.1 268.8L883.6 269.2L884.2 270.6L884.7 272.7L885.2 273.7L885.8 273.9L886.3 274.9L886.9 276.7L887.4 277.8L888.0 277.8L888.5 278.3L889.1 279.9L889.6 281.0L890.2 280.9L890.7 281.0L891.3 282.1L891.8 283.3L892.4 283.2L892.9 282.8L893.4 283.6L894.0 284.6L894.5 284.5L895.1 283.8L895.6 284.1L896.2 285.0L896.7 284.9L897.3 284.0L897.8 283.8L898.4 284.5L898.9 284.4L899.5 283.3L900.0 282.6L900.6 283.0L901.1 283.0L901.6 281.7L902.2 280.6L902.7 280.6L903.3 280.6L903.8 279.3L904.4 277.8L904.9 277.4L905.5 277.3L906.0 276.0L906.6 274.2L907.1 273.4L907.7 273.1L908.2 271.9L908.8 269.8L909.3 268.5L909.9 268.1L910.4 266.9L910.9 264.7L911.5 263.0L912.0 262.2L912.6 261.2L913.1 258.9L913.7 256.7L914.2 255.7L914.8 254.6L915.3 252.3L915.9 249.8L916.4 248.4L917.0 247.3L917.5 245.1L918.1 242.3L918.6 240.5L919.1 239.3L919.7 237.2L920.2 234.2L920.8 232.0L921.3 230.7L921.9 228.7L922.4 225.7L923.0 223.1L923.5 221.6L924.1 219.7L924.6 216.7L925.2 213.8L925.7 212.0L926.3 210.2L926.8 207.3L927.3 204.1L927.9 202.0L928.4 200.3L929.0 197.5L929.5 194.1L930.1 191.8L930.6 190.1L931.2 187.4L931.7 184.0L932.3 181.3L932.8 179.6L933.4 177.1L933.9 173.7L934.5 170.7L935.0 168.9L935.5 166.7L936.1 163.3L936.6 160.1L937.2 158.1L937.7 156.1L938.3 152.9L938.8 149.5L939.4 147.3L939.9 145.4L940.5 142.5L941.0 139.0L941.6 136.6L942.1 134.9L942.7 132.2L943.2 128.7L943.8 126.1L944.3 124.4L944.8 122.1L945.4 118.7L945.9 115.9L946.5 114.2L947.0 112.1L947.6 109.0L948.1 106.0L948.7 104.2L949.2 102.5L949.8 99.6L950.3 96.5L950.9 94.7L951.4 93.2L952.0 90.6L952.5 87.6" stroke="#e8343a"/></g>
<g clip-path="url(#cd)" fill="none" stroke-width="1.3"><path d="M569.8 333.6L570.3 334.2L570.8 334.7L571.4 334.8L571.9 334.7L572.5 334.4L573.0 334.0L573.6 333.9L574.1 334.1L574.7 334.6L575.2 335.5L575.8 336.6L576.3 337.6L576.9 338.4L577.4 338.9L578.0 339.2L578.5 339.3L579.0 339.5L579.6 340.0L580.1 340.8L580.7 342.0L581.2 343.4L581.8 344.9L582.3 346.2L582.9 347.4L583.4 348.2L584.0 348.9L584.5 349.5L585.1 350.3L585.6 351.3L586.2 352.7L586.7 354.4L587.2 356.2L587.8 358.1L588.3 359.7L588.9 361.2L589.4 362.4L590.0 363.4L590.5 364.6L591.1 365.8L591.6 367.4L592.2 369.3L592.7 371.3L593.3 373.5L593.8 375.6L594.4 377.5L594.9 379.2L595.4 380.7L596.0 382.2L596.5 383.7L597.1 385.5L597.6 387.5L598.2 389.7L598.7 392.0L599.3 394.4L599.8 396.7L600.4 398.7L600.9 400.7L601.5 402.5L602.0 404.3L602.6 406.2L603.1 408.3L603.7 410.6L604.2 413.0L604.7 415.5L605.3 418.0L605.8 420.4L606.4 422.6L606.9 424.7L607.5 426.7L608.0 428.8L608.6 431.0L609.1 433.3L609.7 435.7L610.2 438.3L610.8 440.8L611.3 443.3L611.9 445.7L612.4 448.0L612.9 450.2L613.5 452.3L614.0 454.6L614.6 456.9L615.1 459.3L615.7 461.8L616.2 464.3L616.8 466.7L617.3 469.2L617.9 471.5L618.4 473.8L619.0 476.0L619.5 478.2L620.1 480.4L620.6 482.8L621.1 485.1L621.7 487.5L622.2 489.9L622.8 492.2L623.3 494.5L623.9 496.7L624.4 498.8L625.0 501.0L625.5 503.1L626.1 505.3L626.6 507.4L627.2 509.6L627.7 511.8L628.3 513.9L628.8 516.1L629.3 518.1L629.9 520.1L630.4 522.1L631.0 524.0L631.5 526.0L632.1 527.9L632.6 529.8L633.2 531.7L633.7 533.6L634.3 535.5L634.8 537.3L635.4 539.0L635.9 540.8L636.5 542.4L637.0 544.1L637.6 545.7L638.1 547.3L638.6 548.9L639.2 550.5L639.7 552.0L640.3 553.5L640.8 554.9L641.4 556.3L641.9 557.7L642.5 559.0L643.0 560.3L643.6 561.5L644.1 562.7L644.7 563.9L645.2 565.0L645.8 566.1L646.3 567.2L646.8 568.2L647.4 569.2L647.9 570.1L648.5 571.0L649.0 571.8L649.6 572.6L650.1 573.4L650.7 574.1L651.2 574.8L651.8 575.4L652.3 576.0L652.9 576.5L653.4 577.0L654.0 577.5L654.5 577.9L655.0 578.2L655.6 578.5L656.1 578.8L656.7 579.0L657.2 579.2L657.8 579.4L658.3 579.5L658.9 579.5L659.4 579.5L660.0 579.5L660.5 579.4L661.1 579.2L661.6 579.0L662.2 578.8L662.7 578.5L663.3 578.2L663.8 577.9L664.3 577.5L664.9 577.0L665.4 576.5L666.0 576.0L666.5 575.4L667.1 574.8L667.6 574.1L668.2 573.4L668.7 572.6L669.3 571.8L669.8 571.0L670.4 570.1L670.9 569.2L671.5 568.2L672.0 567.2L672.5 566.1L673.1 565.0L673.6 563.9L674.2 562.7L674.7 561.5L675.3 560.3L675.8 559.0L676.4 557.7L676.9 556.3L677.5 554.9L678.0 553.4L678.6 552.0L679.1 550.5L679.7 548.9L680.2 547.4L680.7 545.8L681.3 544.2L681.8 542.5L682.4 540.8L682.9 539.0L683.5 537.2L684.0 535.4L684.6 533.6L685.1 531.7L685.7 529.9L686.2 528.0L686.8 526.1L687.3 524.1L687.9 522.1L688.4 520.1L688.9 518.0L689.5 515.9L690.0 513.8L690.6 511.7L691.1 509.6L691.7 507.6L692.2 505.5L692.8 503.3L693.3 501.1L693.9 498.9L694.4 496.6L695.0 494.2L695.5 491.9L696.1 489.7L696.6 487.4L697.2 485.2L697.7 483.0L698.2 480.8L698.8 478.5L699.3 476.1L699.9 473.7L700.4 471.2L701.0 468.8L701.5 466.4L702.1 464.0L702.6 461.8L703.2 459.5L703.7 457.3L704.3 455.1L704.8 452.7L705.4 450.3L705.9 447.7L706.4 445.2L707.0 442.7L707.5 440.3L708.1 438.1L708.6 435.9L709.2 433.8L709.7 431.7L710.3 429.4L710.8 427.1L711.4 424.6L711.9 422.1L712.5 419.6L713.0 417.2L713.6 415.0L714.1 412.9L714.6 411.0L715.2 409.1L715.7 407.1L716.3 405.0L716.8 402.8L717.4 400.4L717.9 397.9L718.5 395.6L719.0 393.5L719.6 391.5L720.1 389.8L720.7 388.2L721.2 386.6L721.8 384.9L722.3 382.9L722.9 380.8L723.4 378.6L723.9 376.3L724.5 374.3L725.0 372.5L725.6 371.0L726.1 369.7L726.7 368.5L727.2 367.2L727.8 365.7L728.3 364.0L728.9 362.1L729.4 360.1L730.0 358.3L730.5 356.7L731.1 355.4L731.6 354.4L732.1 353.6L732.7 352.8L733.2 351.8L733.8 350.6L734.3 349.2L734.9 347.6L735.4 346.0L736.0 344.6L736.5 343.5L737.1 342.8L737.6 342.4L738.2 342.1L738.7 341.7L739.3 341.1L739.8 340.2L740.3 339.1L740.9 337.9L741.4 336.7L742.0 335.9L742.5 335.4L743.1 335.3L743.6 335.4L744.2 335.6L744.7 335.7L745.3 335.4L745.8 334.9L746.4 334.2L746.9 333.4L747.5 332.8L748.0 332.6L748.5 332.8L749.1 333.3L749.6 333.9L750.2 334.6L750.7 335.0L751.3 335.1L751.8 334.9L752.4 334.7L752.9 334.4L753.5 334.5L754.0 334.9L754.6 335.7L755.1 336.7L755.7 337.9L756.2 338.9L756.8 339.7L757.3 340.1L757.8 340.4L758.4 340.6L758.9 341.0L759.5 341.6L760.0 342.7L760.6 344.0L761.1 345.5L761.7 347.1L762.2 348.4L762.8 349.5L763.3 350.3L763.9 351.0L764.4 351.8L765.0 352.7L765.5 353.9L766.0 355.5L766.6 357.3L767.1 359.2L767.7 361.1L768.2 362.7L768.8 364.1L769.3 365.3L769.9 366.4L770.4 367.6L771.0 369.1L771.5 370.8L772.1 372.8L772.6 375.0L773.2 377.2L773.7 379.2L774.2 381.1L774.8 382.8L775.3 384.3L775.9 385.9L776.4 387.5L777.0 389.4L777.5 391.5L778.1 393.9L778.6 396.2L779.2 398.6L779.7 400.8L780.3 402.9L780.8 404.8L781.4 406.6L781.9 408.5L782.4 410.5L783.0 412.7L783.5 415.1L784.1 417.6L784.6 420.1L785.2 422.6L785.7 424.9L786.3 427.1L786.8 429.2L787.4 431.2L787.9 433.4L788.5 435.6L789.0 438.0L789.6 440.5L790.1 443.0L790.7 445.6L791.2 448.0L791.7 450.4L792.3 452.6L792.8 454.8L793.4 457.0L793.9 459.3L794.5 461.6L795.0 464.1L795.6 466.5L796.1 469.0L796.7 471.5L797.2 473.8L797.8 476.1L798.3 478.4L798.9 480.6L799.4 482.8L799.9 485.1L800.5 487.4L801.0 489.7L801.6 492.1L802.1 494.4L802.7 496.7L803.2 498.9L803.8 501.1L804.3 503.2L804.9 505.3L805.4 507.4L806.0 509.6L806.5 511.7L807.1 513.9L807.6 516.0L808.1 518.1L808.7 520.1L809.2 522.1L809.8 524.1L810.3 526.0L810.9 527.9L811.4 529.8L812.0 531.7L812.5 533.6L813.1 535.4L813.6 537.3L814.2 539.0L814.7 540.8L815.3 542.5L815.8 544.1L816.4 545.8L816.9 547.3L817.4 548.9L818.0 550.5L818.5 552.0L819.1 553.5L819.6 554.9L820.2 556.3L820.7 557.7L821.3 559.0L821.8 560.3L822.4 561.5L822.9 562.7L823.5 563.9L824.0 565.0L824.6 566.1L825.1 567.2L825.6 568.2L826.2 569.2L826.7 570.1L827.3 571.0L827.8 571.8L828.4 572.6L828.9 573.4L829.5 574.1L830.0 574.8L830.6 575.4L831.1 576.0L831.7 576.5L832.2 577.0L832.8 577.5L833.3 577.9L833.8 578.2L834.4 578.5L834.9 578.8L835.5 579.0L836.0 579.2L836.6 579.4L837.1 579.5L837.7 579.5L838.2 579.5L838.8 579.5L839.3 579.4L839.9 579.2L840.4 579.0L841.0 578.8L841.5 578.5L842.0 578.2L842.6 577.9L843.1 577.5L843.7 577.0L844.2 576.5L844.8 576.0L845.3 575.4L845.9 574.8L846.4 574.1L847.0 573.4L847.5 572.6L848.1 571.8L848.6 571.0L849.2 570.1L849.7 569.2L850.3 568.2L850.8 567.2L851.3 566.1L851.9 565.0L852.4 563.9L853.0 562.7L853.5 561.5L854.1 560.3L854.6 559.0L855.2 557.7L855.7 556.3L856.3 554.9L856.8 553.5L857.4 552.0L857.9 550.5L858.5 548.9L859.0 547.4L859.5 545.8L860.1 544.1L860.6 542.5L861.2 540.8L861.7 539.0L862.3 537.2L862.8 535.4L863.4 533.6L863.9 531.7L864.5 529.8L865.0 527.9L865.6 526.0L866.1 524.1L866.7 522.1L867.2 520.1L867.7 518.1L868.3 516.0L868.8 513.8L869.4 511.7L869.9 509.6L870.5 507.5L871.0 505.4L871.6 503.3L872.1 501.1L872.7 498.9L873.2 496.7L873.8 494.4L874.3 492.0L874.9 489.7L875.4 487.4L876.0 485.1L876.5 482.8L877.0 480.6L877.6 478.4L878.1 476.2L878.7 473.8L879.2 471.4L879.8 469.0L880.3 466.5L880.9 464.0L881.4 461.6L882.0 459.3L882.5 457.1L883.1 454.9L883.6 452.7L884.2 450.4L884.7 448.0L885.2 445.5L885.8 442.9L886.3 440.4L886.9 438.0L887.4 435.6L888.0 433.4L888.5 431.3L889.1 429.3L889.6 427.1L890.2 424.9L890.7 422.5L891.3 420.0L891.8 417.5L892.4 415.0L892.9 412.7L893.4 410.6L894.0 408.7L894.5 406.8L895.1 404.9L895.6 402.9L896.2 400.8L896.7 398.5L897.3 396.1L897.8 393.7L898.4 391.5L898.9 389.4L899.5 387.7L900.0 386.0L900.6 384.5L901.1 382.9L901.6 381.1L902.2 379.1L902.7 377.0L903.3 374.8L903.8 372.7L904.4 370.8L904.9 369.2L905.5 367.8L906.0 366.6L906.6 365.5L907.1 364.2L907.7 362.6L908.2 360.9L908.8 359.0L909.3 357.1L909.9 355.4L910.4 353.9L910.9 352.8L911.5 352.0L912.0 351.3L912.6 350.5L913.1 349.5L913.7 348.3L914.2 346.8L914.8 345.3L915.3 343.8L915.9 342.6L916.4 341.7L917.0 341.2L917.5 340.9L918.1 340.7L918.6 340.3L919.1 339.6L919.7 338.7L920.2 337.6L920.8 336.5L921.3 335.5L921.9 334.9L922.4 334.6L923.0 334.7L923.5 335.0L924.1 335.2L924.6 335.2L925.2 334.9L925.7 334.3L926.3 333.6L926.8 333.0L927.3 332.6L927.9 332.6L928.4 333.0L929.0 333.7L929.5 334.4L930.1 335.1L930.6 335.4L931.2 335.5L931.7 335.4L932.3 335.2L932.8 335.1L933.4 335.4L933.9 336.0L934.5 337.0L935.0 338.2L935.5 339.3L936.1 340.3L936.6 341.0L937.2 341.5L937.7 341.8L938.3 342.1L938.8 342.6L939.4 343.5L939.9 344.7L940.5 346.2L941.0 347.8L941.6 349.4L942.1 350.7L942.7 351.7L943.2 352.6L943.8 353.3L944.3 354.2L944.8 355.3L945.4 356.7L945.9 358.5L946.5 360.4L947.0 362.3L947.6 364.1L948.1 365.7L948.7 367.1L949.2 368.3L949.8 369.5L950.3 370.9L950.9 372.5L951.4 374.4L952.0 376.5L952.5 378.8" stroke="#444444"/><path d="M569.8 589.8L570.3 589.7L570.8 589.7L571.4 589.5L571.9 589.4L572.5 589.2L573.0 588.9L573.6 588.6L574.1 588.3L574.7 587.9L575.2 587.5L575.8 587.0L576.3 586.5L576.9 585.9L577.4 585.3L578.0 584.7L578.5 584.0L579.0 583.2L579.6 582.5L580.1 581.6L580.7 580.8L581.2 579.9L581.8 578.9L582.3 577.9L582.9 576.9L583.4 575.8L584.0 574.7L584.5 573.6L585.1 572.4L585.6 571.2L586.2 569.9L586.7 568.6L587.2 567.2L587.8 565.9L588.3 564.4L588.9 563.0L589.4 561.5L590.0 560.0L590.5 558.4L591.1 556.8L591.6 555.2L592.2 553.5L592.7 551.8L593.3 550.1L593.8 548.4L594.4 546.6L594.9 544.8L595.4 542.9L596.0 541.1L596.5 539.2L597.1 537.2L597.6 535.3L598.2 533.3L598.7 531.3L599.3 529.3L599.8 527.3L600.4 525.2L600.9 523.1L601.5 521.0L602.0 518.9L602.6 516.7L603.1 514.5L603.7 512.3L604.2 510.1L604.7 507.9L605.3 505.7L605.8 503.4L606.4 501.2L606.9 498.9L607.5 496.6L608.0 494.3L608.6 492.0L609.1 489.7L609.7 487.4L610.2 485.0L610.8 482.7L611.3 480.4L611.9 478.0L612.4 475.7L612.9 473.3L613.5 470.9L614.0 468.6L614.6 466.2L615.1 463.9L615.7 461.5L616.2 459.1L616.8 456.8L617.3 454.4L617.9 452.1L618.4 449.7L619.0 447.4L619.5 445.1L620.1 442.7L620.6 440.4L621.1 438.1L621.7 435.8L622.2 433.6L622.8 431.3L623.3 429.0L623.9 426.8L624.4 424.6L625.0 422.4L625.5 420.2L626.1 418.0L626.6 415.8L627.2 413.7L627.7 411.6L628.3 409.5L628.8 407.4L629.3 405.3L629.9 403.3L630.4 401.3L631.0 399.3L631.5 397.3L632.1 395.4L632.6 393.5L633.2 391.6L633.7 389.8L634.3 387.9L634.8 386.1L635.4 384.4L635.9 382.6L636.5 380.9L637.0 379.2L637.6 377.6L638.1 376.0L638.6 374.4L639.2 372.9L639.7 371.4L640.3 369.9L640.8 368.5L641.4 367.1L641.9 365.7L642.5 364.4L643.0 363.1L643.6 361.8L644.1 360.6L644.7 359.5L645.2 358.3L645.8 357.2L646.3 356.2L646.8 355.2L647.4 354.2L647.9 353.3L648.5 352.4L649.0 351.5L649.6 350.7L650.1 350.0L650.7 349.3L651.2 348.6L651.8 348.0L652.3 347.4L652.9 346.8L653.4 346.4L654.0 345.9L654.5 345.5L655.0 345.1L655.6 344.8L656.1 344.5L656.7 344.3L657.2 344.1L657.8 344.0L658.3 343.9L658.9 343.9L659.4 343.9L660.0 343.9L660.5 344.0L661.1 344.1L661.6 344.3L662.2 344.5L662.7 344.8L663.3 345.1L663.8 345.5L664.3 345.9L664.9 346.4L665.4 346.8L666.0 347.4L666.5 348.0L667.1 348.6L667.6 349.3L668.2 350.0L668.7 350.7L669.3 351.5L669.8 352.4L670.4 353.3L670.9 354.2L671.5 355.2L672.0 356.2L672.5 357.2L673.1 358.3L673.6 359.5L674.2 360.6L674.7 361.8L675.3 363.1L675.8 364.4L676.4 365.7L676.9 367.1L677.5 368.5L678.0 369.9L678.6 371.4L679.1 372.9L679.7 374.4L680.2 376.0L680.7 377.6L681.3 379.2L681.8 380.9L682.4 382.6L682.9 384.4L683.5 386.1L684.0 387.9L684.6 389.8L685.1 391.6L685.7 393.5L686.2 395.4L686.8 397.3L687.3 399.3L687.9 401.3L688.4 403.3L688.9 405.3L689.5 407.4L690.0 409.5L690.6 411.6L691.1 413.7L691.7 415.8L692.2 418.0L692.8 420.2L693.3 422.4L693.9 424.6L694.4 426.8L695.0 429.0L695.5 431.3L696.1 433.6L696.6 435.8L697.2 438.1L697.7 440.4L698.2 442.7L698.8 445.1L699.3 447.4L699.9 449.7L700.4 452.1L701.0 454.4L701.5 456.8L702.1 459.1L702.6 461.5L703.2 463.9L703.7 466.2L704.3 468.6L704.8 470.9L705.4 473.3L705.9 475.7L706.4 478.0L707.0 480.4L707.5 482.7L708.1 485.0L708.6 487.4L709.2 489.7L709.7 492.0L710.3 494.3L710.8 496.6L711.4 498.9L711.9 501.2L712.5 503.4L713.0 505.7L713.6 507.9L714.1 510.1L714.6 512.3L715.2 514.5L715.7 516.7L716.3 518.9L716.8 521.0L717.4 523.1L717.9 525.2L718.5 527.3L719.0 529.3L719.6 531.3L720.1 533.3L720.7 535.3L721.2 537.2L721.8 539.2L722.3 541.1L722.9 542.9L723.4 544.8L723.9 546.6L724.5 548.4L725.0 550.1L725.6 551.8L726.1 553.5L726.7 555.2L727.2 556.8L727.8 558.4L728.3 560.0L728.9 561.5L729.4 563.0L730.0 564.4L730.5 565.9L731.1 567.2L731.6 568.6L732.1 569.9L732.7 571.2L733.2 572.4L733.8 573.6L734.3 574.7L734.9 575.8L735.4 576.9L736.0 577.9L736.5 578.9L737.1 579.9L737.6 580.8L738.2 581.6L738.7 582.5L739.3 583.2L739.8 584.0L740.3 584.7L740.9 585.3L741.4 585.9L742.0 586.5L742.5 587.0L743.1 587.5L743.6 587.9L744.2 588.3L744.7 588.6L745.3 588.9L745.8 589.2L746.4 589.4L746.9 589.5L747.5 589.7L748.0 589.7L748.5 589.8L749.1 589.7L749.6 589.7L750.2 589.5L750.7 589.4L751.3 589.2L751.8 588.9L752.4 588.6L752.9 588.3L753.5 587.9L754.0 587.5L754.6 587.0L755.1 586.5L755.7 585.9L756.2 585.3L756.8 584.7L757.3 584.0L757.8 583.2L758.4 582.5L758.9 581.6L759.5 580.8L760.0 579.9L760.6 578.9L761.1 577.9L761.7 576.9L762.2 575.8L762.8 574.7L763.3 573.6L763.9 572.4L764.4 571.2L765.0 569.9L765.5 568.6L766.0 567.2L766.6 565.9L767.1 564.4L767.7 563.0L768.2 561.5L768.8 560.0L769.3 558.4L769.9 556.8L770.4 555.2L771.0 553.5L771.5 551.8L772.1 550.1L772.6 548.4L773.2 546.6L773.7 544.8L774.2 542.9L774.8 541.1L775.3 539.2L775.9 537.2L776.4 535.3L777.0 533.3L777.5 531.3L778.1 529.3L778.6 527.3L779.2 525.2L779.7 523.1L780.3 521.0L780.8 518.9L781.4 516.7L781.9 514.5L782.4 512.3L783.0 510.1L783.5 507.9L784.1 505.7L784.6 503.4L785.2 501.2L785.7 498.9L786.3 496.6L786.8 494.3L787.4 492.0L787.9 489.7L788.5 487.4L789.0 485.0L789.6 482.7L790.1 480.4L790.7 478.0L791.2 475.7L791.7 473.3L792.3 470.9L792.8 468.6L793.4 466.2L793.9 463.9L794.5 461.5L795.0 459.1L795.6 456.8L796.1 454.4L796.7 452.1L797.2 449.7L797.8 447.4L798.3 445.1L798.9 442.7L799.4 440.4L799.9 438.1L800.5 435.8L801.0 433.6L801.6 431.3L802.1 429.0L802.7 426.8L803.2 424.6L803.8 422.4L804.3 420.2L804.9 418.0L805.4 415.8L806.0 413.7L806.5 411.6L807.1 409.5L807.6 407.4L808.1 405.3L808.7 403.3L809.2 401.3L809.8 399.3L810.3 397.3L810.9 395.4L811.4 393.5L812.0 391.6L812.5 389.8L813.1 387.9L813.6 386.1L814.2 384.4L814.7 382.6L815.3 380.9L815.8 379.2L816.4 377.6L816.9 376.0L817.4 374.4L818.0 372.9L818.5 371.4L819.1 369.9L819.6 368.5L820.2 367.1L820.7 365.7L821.3 364.4L821.8 363.1L822.4 361.8L822.9 360.6L823.5 359.5L824.0 358.3L824.6 357.2L825.1 356.2L825.6 355.2L826.2 354.2L826.7 353.3L827.3 352.4L827.8 351.5L828.4 350.7L828.9 350.0L829.5 349.3L830.0 348.6L830.6 348.0L831.1 347.4L831.7 346.8L832.2 346.4L832.8 345.9L833.3 345.5L833.8 345.1L834.4 344.8L834.9 344.5L835.5 344.3L836.0 344.1L836.6 344.0L837.1 343.9L837.7 343.9L838.2 343.9L838.8 343.9L839.3 344.0L839.9 344.1L840.4 344.3L841.0 344.5L841.5 344.8L842.0 345.1L842.6 345.5L843.1 345.9L843.7 346.4L844.2 346.8L844.8 347.4L845.3 348.0L845.9 348.6L846.4 349.3L847.0 350.0L847.5 350.7L848.1 351.5L848.6 352.4L849.2 353.3L849.7 354.2L850.3 355.2L850.8 356.2L851.3 357.2L851.9 358.3L852.4 359.5L853.0 360.6L853.5 361.8L854.1 363.1L854.6 364.4L855.2 365.7L855.7 367.1L856.3 368.5L856.8 369.9L857.4 371.4L857.9 372.9L858.5 374.4L859.0 376.0L859.5 377.6L860.1 379.2L860.6 380.9L861.2 382.6L861.7 384.4L862.3 386.1L862.8 387.9L863.4 389.8L863.9 391.6L864.5 393.5L865.0 395.4L865.6 397.3L866.1 399.3L866.7 401.3L867.2 403.3L867.7 405.3L868.3 407.4L868.8 409.5L869.4 411.6L869.9 413.7L870.5 415.8L871.0 418.0L871.6 420.2L872.1 422.4L872.7 424.6L873.2 426.8L873.8 429.0L874.3 431.3L874.9 433.6L875.4 435.8L876.0 438.1L876.5 440.4L877.0 442.7L877.6 445.1L878.1 447.4L878.7 449.7L879.2 452.1L879.8 454.4L880.3 456.8L880.9 459.1L881.4 461.5L882.0 463.9L882.5 466.2L883.1 468.6L883.6 470.9L884.2 473.3L884.7 475.7L885.2 478.0L885.8 480.4L886.3 482.7L886.9 485.0L887.4 487.4L888.0 489.7L888.5 492.0L889.1 494.3L889.6 496.6L890.2 498.9L890.7 501.2L891.3 503.4L891.8 505.7L892.4 507.9L892.9 510.1L893.4 512.3L894.0 514.5L894.5 516.7L895.1 518.9L895.6 521.0L896.2 523.1L896.7 525.2L897.3 527.3L897.8 529.3L898.4 531.3L898.9 533.3L899.5 535.3L900.0 537.2L900.6 539.2L901.1 541.1L901.6 542.9L902.2 544.8L902.7 546.6L903.3 548.4L903.8 550.1L904.4 551.8L904.9 553.5L905.5 555.2L906.0 556.8L906.6 558.4L907.1 560.0L907.7 561.5L908.2 563.0L908.8 564.4L909.3 565.9L909.9 567.2L910.4 568.6L910.9 569.9L911.5 571.2L912.0 572.4L912.6 573.6L913.1 574.7L913.7 575.8L914.2 576.9L914.8 577.9L915.3 578.9L915.9 579.9L916.4 580.8L917.0 581.6L917.5 582.5L918.1 583.2L918.6 584.0L919.1 584.7L919.7 585.3L920.2 585.9L920.8 586.5L921.3 587.0L921.9 587.5L922.4 587.9L923.0 588.3L923.5 588.6L924.1 588.9L924.6 589.2L925.2 589.4L925.7 589.5L926.3 589.7L926.8 589.7L927.3 589.8L927.9 589.7L928.4 589.7L929.0 589.5L929.5 589.4L930.1 589.2L930.6 588.9L931.2 588.6L931.7 588.3L932.3 587.9L932.8 587.5L933.4 587.0L933.9 586.5L934.5 585.9L935.0 585.3L935.5 584.7L936.1 584.0L936.6 583.2L937.2 582.5L937.7 581.6L938.3 580.8L938.8 579.9L939.4 578.9L939.9 577.9L940.5 576.9L941.0 575.8L941.6 574.7L942.1 573.6L942.7 572.4L943.2 571.2L943.8 569.9L944.3 568.6L944.8 567.2L945.4 565.9L945.9 564.4L946.5 563.0L947.0 561.5L947.6 560.0L948.1 558.4L948.7 556.8L949.2 555.2L949.8 553.5L950.3 551.8L950.9 550.1L951.4 548.4L952.0 546.6L952.5 544.8" stroke="#e8343a"/></g>
<path d="M137.50 284.50V278.80M137.50 2.75V8.45M192.50 284.50V278.80M192.50 2.75V8.45M247.50 284.50V278.80M247.50 2.75V8.45M301.50 284.50V278.80M301.50 2.75V8.45M356.50 284.50V278.80M356.50 2.75V8.45M411.50 284.50V278.80M411.50 2.75V8.45M83.25 249.50H88.95M465.75 249.50H460.05M83.25 178.50H88.95M465.75 178.50H460.05M83.25 108.50H88.95M465.75 108.50H460.05M83.25 37.50H88.95M465.75 37.50H460.05" stroke="#000" stroke-width="1" fill="none"/>
<rect x="83.25" y="2.75" width="382.50" height="281.75" stroke="#000" stroke-width="1" fill="none"/>
<path d="M192.50 589.75V584.05M192.50 308.00V313.70M301.50 589.75V584.05M301.50 308.00V313.70M411.50 589.75V584.05M411.50 308.00V313.70M83.25 589.50H88.95M465.75 589.50H460.05M83.25 503.50H88.95M465.75 503.50H460.05M83.25 416.50H88.95M465.75 416.50H460.05M83.25 329.50H88.95M465.75 329.50H460.05" stroke="#000" stroke-width="1" fill="none"/>
<rect x="83.25" y="308.00" width="382.50" height="281.75" stroke="#000" stroke-width="1" fill="none"/>
<path d="M624.50 284.50V278.80M624.50 2.75V8.45M679.50 284.50V278.80M679.50 2.75V8.45M733.50 284.50V278.80M733.50 2.75V8.45M788.50 284.50V278.80M788.50 2.75V8.45M843.50 284.50V278.80M843.50 2.75V8.45M897.50 284.50V278.80M897.50 2.75V8.45M569.75 284.50H575.45M952.50 284.50H946.80M569.75 156.50H575.45M952.50 156.50H946.80M569.75 28.50H575.45M952.50 28.50H946.80" stroke="#000" stroke-width="1" fill="none"/>
<rect x="569.75" y="2.75" width="382.75" height="281.75" stroke="#000" stroke-width="1" fill="none"/>
<path d="M679.50 589.75V584.05M679.50 308.00V313.70M788.50 589.75V584.05M788.50 308.00V313.70M897.50 589.75V584.05M897.50 308.00V313.70M569.75 589.50H575.45M952.50 589.50H946.80M569.75 461.50H575.45M952.50 461.50H946.80M569.75 333.50H575.45M952.50 333.50H946.80" stroke="#000" stroke-width="1" fill="none"/>
<rect x="569.75" y="308.00" width="382.75" height="281.75" stroke="#000" stroke-width="1" fill="none"/>
<text transform="matrix(0.3350 0 0 0.2954 60.46 45.00)">2</text>
<text transform="matrix(0.3143 0 0 0.3000 60.17 116.80)">1</text>
<text transform="matrix(0.3455 0 0 0.2985 59.87 187.40)">0</text>
<text transform="matrix(0.4234 0 0 0.3800 35.08 264.48)">−</text>
<text transform="matrix(0.3143 0 0 0.3015 60.27 259.30)">1</text>
<text transform="matrix(0.3196 0 0 0.2985 60.76 341.00)">4</text>
<text transform="matrix(0.3375 0 0 0.3077 60.45 426.00)">2</text>
<text transform="matrix(0.3452 0 0 0.3000 59.82 513.60)">0</text>
<text transform="matrix(0.4170 0 0 0.3600 35.31 601.16)">−</text>
<text transform="matrix(0.3325 0 0 0.3015 60.57 596.60)">2</text>
<text transform="matrix(0.3482 0 0 0.2956 520.07 39.11)">1.0</text>
<text transform="matrix(0.3385 0 0 0.3090 520.45 167.28)">0.5</text>
<text transform="matrix(0.3462 0 0 0.3015 520.42 295.10)">0.0</text>
<text transform="matrix(0.3491 0 0 0.2971 520.06 344.51)">1.0</text>
<text transform="matrix(0.3385 0 0 0.3075 520.45 472.69)">0.5</text>
<text transform="matrix(0.3462 0 0 0.2970 520.42 600.31)">0.0</text>
<text transform="matrix(0.3595 0 0 0.3000 74.96 618.80)">0</text>
<text transform="matrix(0.3336 0 0 0.2956 167.40 618.81)">100</text>
<text transform="matrix(0.3331 0 0 0.3000 276.77 618.80)">200</text>
<text transform="matrix(0.3355 0 0 0.3000 385.62 618.80)">300</text>
<text transform="matrix(0.3476 0 0 0.3000 562.01 618.80)">0</text>
<text transform="matrix(0.3372 0 0 0.2956 654.36 618.81)">100</text>
<text transform="matrix(0.3415 0 0 0.3000 762.73 618.80)">200</text>
<text transform="matrix(0.3355 0 0 0.3000 872.02 618.80)">300</text>
<text class="i th" transform="matrix(0.4308 0 0 0.3702 242.08 661.43)">t</text>
<text transform="matrix(0.4964 0 0 0.5015 259.20 669.20)">/</text>
<text class="i th" transform="matrix(0.4784 0 0 0.3149 276.24 661.49)">τ</text>
<text class="i th" transform="matrix(0.4308 0 0 0.3702 728.28 661.43)">t</text>
<text transform="matrix(0.4964 0 0 0.5015 745.40 669.20)">/</text>
<text class="i th" transform="matrix(0.4784 0 0 0.3149 762.44 661.49)">τ</text>
<text class="i th" transform="matrix(0 -0.4283 0.3492 0 49.10 156.27)">E</text>
<rect x="18.8" y="130.3" width="1.6" height="22.5" fill="#000"/>
<text class="i th" transform="matrix(0 -0.4283 0.3492 0 49.10 469.37)">E</text>
<rect x="18.9" y="443.8" width="1.5" height="21.9" fill="#000"/>
<text class="i th" transform="matrix(0 -0.4373 0.3585 0 509.00 139.60)">P</text>
<text class="i th" transform="matrix(0 -0.2800 0.2384 0 513.49 114.30)">j</text>
<text class="i th" transform="matrix(0 -0.4339 0.3569 0 509.20 444.90)">P</text>
<text class="i th" transform="matrix(0 -0.3086 0.2419 0 513.62 419.81)">j</text>
<text transform="matrix(0.3544 0 0 0.3278 18.28 24.92)">(a)</text>
<text transform="matrix(0.3537 0 0 0.3233 18.29 331.01)">(b)</text>
<text transform="matrix(0.3311 0 0 0.3211 477.58 24.76)">(c)</text>
<text transform="matrix(0.3500 0 0 0.3211 477.50 331.06)">(d)</text>
<path d="M697.5 17.3H749.1" stroke="#444444" stroke-width="1.3"/>
<path d="M820.9 17.3H872.8" stroke="#e8343a" stroke-width="1.3"/>
<path d="M698.8 323.3H750.6" stroke="#444444" stroke-width="1.3"/>
<path d="M821.9 323.3H874.2" stroke="#e8343a" stroke-width="1.3"/>
<text class="i ns" transform="matrix(0.2800 0 0 0.2105 754.70 24.48)">j</text>
<text class="ns" transform="matrix(0.3340 0 0 0.2400 765.73 27.04)">=</text>
<text class="ns" transform="matrix(0.2057 0 0 0.2091 788.85 24.80)">1</text>
<text class="i ns" transform="matrix(0.2800 0 0 0.2105 881.30 24.48)">j</text>
<text class="ns" transform="matrix(0.3298 0 0 0.2400 892.25 27.04)">=</text>
<text class="ns" transform="matrix(0.2425 0 0 0.2169 915.03 24.80)">2</text>
<text class="i ns" transform="matrix(0.2600 0 0 0.2093 757.70 330.50)">j</text>
<text class="ns" transform="matrix(0.3277 0 0 0.2280 768.86 333.09)">=</text>
<text class="ns" transform="matrix(0.2314 0 0 0.2061 790.82 330.80)">1</text>
<text class="i ns" transform="matrix(0.2686 0 0 0.2093 881.29 330.50)">j</text>
<text class="ns" transform="matrix(0.3362 0 0 0.2280 892.02 333.09)">=</text>
<text class="ns" transform="matrix(0.2439 0 0 0.2106 914.58 330.59)">3</text>
</svg></body></html>
